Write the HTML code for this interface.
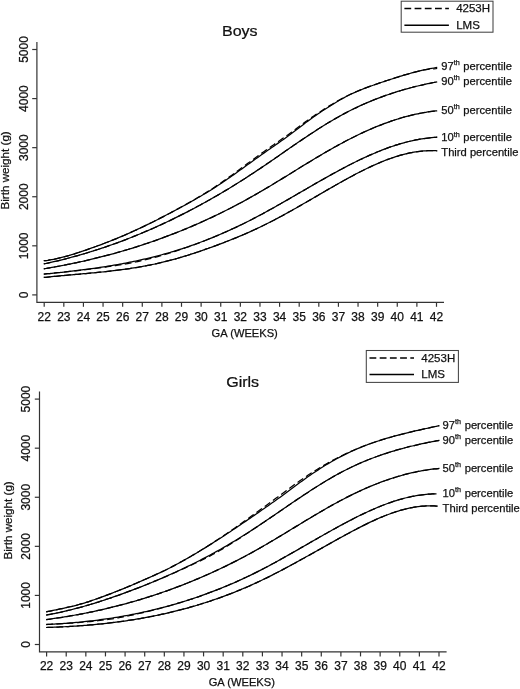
<!DOCTYPE html>
<html><head><meta charset="utf-8"><style>
html,body{margin:0;padding:0;background:#fff;}
svg{display:block;}
text{font-family:"Liberation Sans",Arial,sans-serif;fill:#111;stroke:#111;stroke-width:0.25px;}
.tk{font-size:12px;}
.at{font-size:11.15px;}
.yt{font-size:11.65px;}
.lg{font-size:11.5px;}
.ti{font-size:15.2px;}
.pl{font-size:11.2px;}
.sup{font-size:7.2px;}
.c{fill:none;stroke:#000;stroke-width:1.25;stroke-linejoin:round;}
.d{stroke-dasharray:6.8 3.4;}
</style></head><body>
<svg width="520" height="689" viewBox="0 0 520 689">
<rect width="520" height="689" fill="#fff"/>
<path d="M36.9,42.0 V302.3 H444.0" fill="none" stroke="#333" stroke-width="1.2"/>
<line x1="32.2" y1="294.90" x2="36.9" y2="294.90" stroke="#333" stroke-width="1.2"/>
<text x="27.6" y="294.90" transform="rotate(-90 27.6 294.90)" text-anchor="middle" class="tk">0</text>
<line x1="32.2" y1="245.82" x2="36.9" y2="245.82" stroke="#333" stroke-width="1.2"/>
<text x="27.6" y="245.82" transform="rotate(-90 27.6 245.82)" text-anchor="middle" class="tk">1000</text>
<line x1="32.2" y1="196.74" x2="36.9" y2="196.74" stroke="#333" stroke-width="1.2"/>
<text x="27.6" y="196.74" transform="rotate(-90 27.6 196.74)" text-anchor="middle" class="tk">2000</text>
<line x1="32.2" y1="147.66" x2="36.9" y2="147.66" stroke="#333" stroke-width="1.2"/>
<text x="27.6" y="147.66" transform="rotate(-90 27.6 147.66)" text-anchor="middle" class="tk">3000</text>
<line x1="32.2" y1="98.58" x2="36.9" y2="98.58" stroke="#333" stroke-width="1.2"/>
<text x="27.6" y="98.58" transform="rotate(-90 27.6 98.58)" text-anchor="middle" class="tk">4000</text>
<line x1="32.2" y1="49.50" x2="36.9" y2="49.50" stroke="#333" stroke-width="1.2"/>
<text x="27.6" y="49.50" transform="rotate(-90 27.6 49.50)" text-anchor="middle" class="tk">5000</text>
<line x1="44.20" y1="302.3" x2="44.20" y2="306.8" stroke="#333" stroke-width="1.2"/>
<text x="44.20" y="320.6" text-anchor="middle" class="tk">22</text>
<line x1="63.82" y1="302.3" x2="63.82" y2="306.8" stroke="#333" stroke-width="1.2"/>
<text x="63.82" y="320.6" text-anchor="middle" class="tk">23</text>
<line x1="83.43" y1="302.3" x2="83.43" y2="306.8" stroke="#333" stroke-width="1.2"/>
<text x="83.43" y="320.6" text-anchor="middle" class="tk">24</text>
<line x1="103.05" y1="302.3" x2="103.05" y2="306.8" stroke="#333" stroke-width="1.2"/>
<text x="103.05" y="320.6" text-anchor="middle" class="tk">25</text>
<line x1="122.66" y1="302.3" x2="122.66" y2="306.8" stroke="#333" stroke-width="1.2"/>
<text x="122.66" y="320.6" text-anchor="middle" class="tk">26</text>
<line x1="142.28" y1="302.3" x2="142.28" y2="306.8" stroke="#333" stroke-width="1.2"/>
<text x="142.28" y="320.6" text-anchor="middle" class="tk">27</text>
<line x1="161.89" y1="302.3" x2="161.89" y2="306.8" stroke="#333" stroke-width="1.2"/>
<text x="161.89" y="320.6" text-anchor="middle" class="tk">28</text>
<line x1="181.50" y1="302.3" x2="181.50" y2="306.8" stroke="#333" stroke-width="1.2"/>
<text x="181.50" y="320.6" text-anchor="middle" class="tk">29</text>
<line x1="201.12" y1="302.3" x2="201.12" y2="306.8" stroke="#333" stroke-width="1.2"/>
<text x="201.12" y="320.6" text-anchor="middle" class="tk">30</text>
<line x1="220.74" y1="302.3" x2="220.74" y2="306.8" stroke="#333" stroke-width="1.2"/>
<text x="220.74" y="320.6" text-anchor="middle" class="tk">31</text>
<line x1="240.35" y1="302.3" x2="240.35" y2="306.8" stroke="#333" stroke-width="1.2"/>
<text x="240.35" y="320.6" text-anchor="middle" class="tk">32</text>
<line x1="259.97" y1="302.3" x2="259.97" y2="306.8" stroke="#333" stroke-width="1.2"/>
<text x="259.97" y="320.6" text-anchor="middle" class="tk">33</text>
<line x1="279.58" y1="302.3" x2="279.58" y2="306.8" stroke="#333" stroke-width="1.2"/>
<text x="279.58" y="320.6" text-anchor="middle" class="tk">34</text>
<line x1="299.20" y1="302.3" x2="299.20" y2="306.8" stroke="#333" stroke-width="1.2"/>
<text x="299.20" y="320.6" text-anchor="middle" class="tk">35</text>
<line x1="318.81" y1="302.3" x2="318.81" y2="306.8" stroke="#333" stroke-width="1.2"/>
<text x="318.81" y="320.6" text-anchor="middle" class="tk">36</text>
<line x1="338.43" y1="302.3" x2="338.43" y2="306.8" stroke="#333" stroke-width="1.2"/>
<text x="338.43" y="320.6" text-anchor="middle" class="tk">37</text>
<line x1="358.04" y1="302.3" x2="358.04" y2="306.8" stroke="#333" stroke-width="1.2"/>
<text x="358.04" y="320.6" text-anchor="middle" class="tk">38</text>
<line x1="377.66" y1="302.3" x2="377.66" y2="306.8" stroke="#333" stroke-width="1.2"/>
<text x="377.66" y="320.6" text-anchor="middle" class="tk">39</text>
<line x1="397.27" y1="302.3" x2="397.27" y2="306.8" stroke="#333" stroke-width="1.2"/>
<text x="397.27" y="320.6" text-anchor="middle" class="tk">40</text>
<line x1="416.88" y1="302.3" x2="416.88" y2="306.8" stroke="#333" stroke-width="1.2"/>
<text x="416.88" y="320.6" text-anchor="middle" class="tk">41</text>
<line x1="436.50" y1="302.3" x2="436.50" y2="306.8" stroke="#333" stroke-width="1.2"/>
<text x="436.50" y="320.6" text-anchor="middle" class="tk">42</text>
<path d="M43.8,260.73 L45.8,260.52 L47.8,260.27 L49.8,259.97 L51.8,259.64 L53.8,259.27 L55.8,258.87 L57.8,258.44 L59.8,257.98 L61.8,257.48 L63.8,256.97 L65.8,256.42 L67.8,255.86 L69.8,255.27 L71.8,254.67 L73.8,254.04 L75.8,253.41 L77.8,252.75 L79.8,252.09 L81.8,251.42 L83.8,250.74 L85.8,250.05 L87.8,249.36 L89.8,248.66 L91.8,247.95 L93.8,247.23 L95.8,246.51 L97.8,245.78 L99.8,245.04 L101.8,244.30 L103.8,243.54 L105.8,242.78 L107.8,242.00 L109.8,241.22 L111.8,240.43 L113.8,239.63 L115.8,238.82 L117.8,237.99 L119.8,237.16 L121.8,236.32 L123.8,235.46 L125.8,234.60 L127.8,233.72 L129.8,232.84 L131.8,231.94 L133.8,231.04 L135.8,230.12 L137.8,229.19 L139.8,228.26 L141.8,227.31 L143.8,226.36 L145.8,225.40 L147.8,224.42 L149.8,223.44 L151.8,222.46 L153.8,221.46 L155.8,220.46 L157.8,219.44 L159.8,218.43 L161.8,217.40 L163.8,216.37 L165.8,215.32 L167.8,214.28 L169.8,213.22 L171.8,212.16 L173.8,211.10 L175.8,210.03 L177.8,208.95 L179.8,207.87 L181.8,206.78 L183.8,205.69 L185.8,204.59 L187.8,203.48 L189.8,202.37 L191.8,201.25 L193.8,200.12 L195.8,198.98 L197.8,197.83 L199.8,196.67 L201.8,195.49 L203.8,194.30 L205.8,193.10 L207.8,191.89 L209.8,190.66 L211.8,189.41 L213.8,188.14 L215.8,186.86 L217.8,185.56 L219.8,184.25 L221.8,182.91 L223.8,181.56 L225.8,180.20 L227.8,178.82 L229.8,177.44 L231.8,176.04 L233.8,174.63 L235.8,173.21 L237.8,171.79 L239.8,170.36 L241.8,168.92 L243.8,167.48 L245.8,166.04 L247.8,164.60 L249.8,163.16 L251.8,161.71 L253.8,160.27 L255.8,158.83 L257.8,157.40 L259.8,155.97 L261.8,154.54 L263.8,153.13 L265.8,151.72 L267.8,150.32 L269.8,148.93 L271.8,147.54 L273.8,146.15 L275.8,144.76 L277.8,143.37 L279.8,141.97 L281.8,140.56 L283.8,139.15 L285.8,137.72 L287.8,136.28 L289.8,134.82 L291.8,133.34 L293.8,131.84 L295.8,130.32 L297.8,128.78 L299.8,127.23 L301.8,125.68 L303.8,124.14 L305.8,122.62 L307.8,121.13 L309.8,119.66 L311.8,118.22 L313.8,116.79 L315.8,115.39 L317.8,114.01 L319.8,112.65 L321.8,111.31 L323.8,109.99 L325.8,108.69 L327.8,107.41 L329.8,106.14 L331.8,104.89 L333.8,103.66 L335.8,102.44 L337.8,101.25 L339.8,100.08 L341.8,98.94 L343.8,97.84 L345.8,96.78 L347.8,95.75 L349.8,94.77 L351.8,93.81 L353.8,92.89 L355.8,92.00 L357.8,91.14 L359.8,90.30 L361.8,89.49 L363.8,88.70 L365.8,87.93 L367.8,87.18 L369.8,86.44 L371.8,85.72 L373.8,85.02 L375.8,84.32 L377.8,83.63 L379.8,82.95 L381.8,82.28 L383.8,81.61 L385.8,80.94 L387.8,80.28 L389.8,79.62 L391.8,78.97 L393.8,78.32 L395.8,77.68 L397.8,77.05 L399.8,76.43 L401.8,75.82 L403.8,75.22 L405.8,74.63 L407.8,74.06 L409.8,73.49 L411.8,72.94 L413.8,72.41 L415.8,71.89 L417.8,71.38 L419.8,70.89 L421.8,70.42 L423.8,69.97 L425.8,69.53 L427.8,69.12 L429.8,68.72 L431.8,68.35 L433.8,68.00 L435.8,67.67 L437.2,67.45" class="c"/>
<path d="M43.8,260.73 L45.8,260.52 L47.8,260.27 L49.8,259.97 L51.8,259.64 L53.8,259.27 L55.8,258.87 L57.8,258.44 L59.8,257.98 L61.8,257.48 L63.8,256.97 L65.8,256.42 L67.8,255.86 L69.8,255.27 L71.8,254.67 L73.8,254.04 L75.8,253.41 L77.8,252.75 L79.8,252.09 L81.8,251.42 L83.8,250.74 L85.8,250.05 L87.8,249.36 L89.8,248.66 L91.8,247.95 L93.8,247.23 L95.8,246.51 L97.8,245.78 L99.8,245.04 L101.8,244.30 L103.8,243.54 L105.8,242.78 L107.8,242.00 L109.8,241.22 L111.8,240.43 L113.8,239.63 L115.8,238.82 L117.8,237.99 L119.8,237.16 L121.8,236.32 L123.8,235.46 L125.8,234.60 L127.8,233.72 L129.8,232.84 L131.8,231.94 L133.8,231.03 L135.8,230.12 L137.8,229.19 L139.8,228.25 L141.8,227.31 L143.8,226.35 L145.8,225.39 L147.8,224.42 L149.8,223.43 L151.8,222.44 L153.8,221.45 L155.8,220.44 L157.8,219.42 L159.8,218.40 L161.8,217.37 L163.8,216.33 L165.8,215.29 L167.8,214.24 L169.8,213.18 L171.8,212.11 L173.8,211.04 L175.8,209.96 L177.8,208.87 L179.8,207.78 L181.8,206.68 L183.8,205.57 L185.8,204.46 L187.8,203.34 L189.8,202.21 L191.8,201.07 L193.8,199.92 L195.8,198.76 L197.8,197.58 L199.8,196.40 L201.8,195.20 L203.8,193.98 L205.8,192.75 L207.8,191.50 L209.8,190.24 L211.8,188.96 L213.8,187.65 L215.8,186.33 L217.8,185.00 L219.8,183.64 L221.8,182.26 L223.8,180.87 L225.8,179.46 L227.8,178.04 L229.8,176.60 L231.8,175.16 L233.8,173.70 L235.8,172.24 L237.8,170.77 L239.8,169.29 L241.8,167.81 L243.8,166.33 L245.8,164.85 L247.8,163.36 L249.8,161.88 L251.8,160.40 L253.8,158.93 L255.8,157.46 L257.8,155.99 L259.8,154.54 L261.8,153.09 L263.8,151.66 L265.8,150.24 L267.8,148.83 L269.8,147.43 L271.8,146.04 L273.8,144.65 L275.8,143.27 L277.8,141.88 L279.8,140.50 L281.8,139.11 L283.8,137.72 L285.8,136.31 L287.8,134.90 L289.8,133.47 L291.8,132.03 L293.8,130.56 L295.8,129.08 L297.8,127.58 L299.8,126.07 L301.8,124.56 L303.8,123.07 L305.8,121.60 L307.8,120.15 L309.8,118.73 L311.8,117.33 L313.8,115.95 L315.8,114.60 L317.8,113.26 L319.8,111.95 L321.8,110.65 L323.8,109.37 L325.8,108.11 L327.8,106.87 L329.8,105.64 L331.8,104.43 L333.8,103.23 L335.8,102.05 L337.8,100.89 L339.8,99.75 L341.8,98.64 L343.8,97.56 L345.8,96.53 L347.8,95.53 L349.8,94.56 L351.8,93.63 L353.8,92.73 L355.8,91.85 L357.8,91.00 L359.8,90.18 L361.8,89.38 L363.8,88.60 L365.8,87.85 L367.8,87.10 L369.8,86.38 L371.8,85.67 L373.8,84.97 L375.8,84.28 L377.8,83.60 L379.8,82.92 L381.8,82.25 L383.8,81.58 L385.8,80.92 L387.8,80.26 L389.8,79.60 L391.8,78.95 L393.8,78.31 L395.8,77.67 L397.8,77.05 L399.8,76.43 L401.8,75.82 L403.8,75.22 L405.8,74.63 L407.8,74.05 L409.8,73.49 L411.8,72.94 L413.8,72.40 L415.8,71.88 L417.8,71.38 L419.8,70.89 L421.8,70.43 L423.8,70.01 L425.8,69.64 L427.8,69.34 L429.8,69.13 L431.8,68.98 L433.8,68.81 L435.8,68.57 L437.2,68.33" class="c d"/>
<path d="M43.8,263.91 L45.8,263.49 L47.8,263.05 L49.8,262.61 L51.8,262.16 L53.8,261.71 L55.8,261.24 L57.8,260.77 L59.8,260.28 L61.8,259.79 L63.8,259.29 L65.8,258.78 L67.8,258.26 L69.8,257.74 L71.8,257.20 L73.8,256.66 L75.8,256.11 L77.8,255.55 L79.8,254.98 L81.8,254.41 L83.8,253.82 L85.8,253.23 L87.8,252.63 L89.8,252.01 L91.8,251.40 L93.8,250.77 L95.8,250.13 L97.8,249.49 L99.8,248.83 L101.8,248.17 L103.8,247.50 L105.8,246.82 L107.8,246.13 L109.8,245.44 L111.8,244.73 L113.8,244.02 L115.8,243.30 L117.8,242.57 L119.8,241.83 L121.8,241.08 L123.8,240.32 L125.8,239.56 L127.8,238.79 L129.8,238.01 L131.8,237.22 L133.8,236.42 L135.8,235.61 L137.8,234.79 L139.8,233.97 L141.8,233.14 L143.8,232.29 L145.8,231.44 L147.8,230.58 L149.8,229.72 L151.8,228.84 L153.8,227.96 L155.8,227.06 L157.8,226.16 L159.8,225.25 L161.8,224.33 L163.8,223.40 L165.8,222.47 L167.8,221.52 L169.8,220.57 L171.8,219.61 L173.8,218.64 L175.8,217.66 L177.8,216.67 L179.8,215.67 L181.8,214.67 L183.8,213.65 L185.8,212.63 L187.8,211.60 L189.8,210.56 L191.8,209.51 L193.8,208.45 L195.8,207.39 L197.8,206.31 L199.8,205.23 L201.8,204.14 L203.8,203.04 L205.8,201.93 L207.8,200.81 L209.8,199.69 L211.8,198.55 L213.8,197.41 L215.8,196.26 L217.8,195.10 L219.8,193.93 L221.8,192.75 L223.8,191.56 L225.8,190.37 L227.8,189.16 L229.8,187.95 L231.8,186.73 L233.8,185.50 L235.8,184.26 L237.8,183.01 L239.8,181.76 L241.8,180.49 L243.8,179.22 L245.8,177.94 L247.8,176.64 L249.8,175.34 L251.8,174.04 L253.8,172.72 L255.8,171.39 L257.8,170.06 L259.8,168.72 L261.8,167.37 L263.8,166.01 L265.8,164.65 L267.8,163.28 L269.8,161.91 L271.8,160.54 L273.8,159.16 L275.8,157.78 L277.8,156.40 L279.8,155.01 L281.8,153.63 L283.8,152.24 L285.8,150.86 L287.8,149.47 L289.8,148.09 L291.8,146.71 L293.8,145.34 L295.8,143.97 L297.8,142.60 L299.8,141.24 L301.8,139.88 L303.8,138.54 L305.8,137.19 L307.8,135.86 L309.8,134.53 L311.8,133.22 L313.8,131.91 L315.8,130.61 L317.8,129.33 L319.8,128.05 L321.8,126.79 L323.8,125.54 L325.8,124.31 L327.8,123.09 L329.8,121.88 L331.8,120.69 L333.8,119.52 L335.8,118.36 L337.8,117.22 L339.8,116.10 L341.8,115.00 L343.8,113.91 L345.8,112.85 L347.8,111.80 L349.8,110.78 L351.8,109.77 L353.8,108.79 L355.8,107.82 L357.8,106.87 L359.8,105.94 L361.8,105.03 L363.8,104.13 L365.8,103.26 L367.8,102.40 L369.8,101.55 L371.8,100.73 L373.8,99.92 L375.8,99.13 L377.8,98.35 L379.8,97.59 L381.8,96.85 L383.8,96.12 L385.8,95.41 L387.8,94.72 L389.8,94.04 L391.8,93.37 L393.8,92.72 L395.8,92.08 L397.8,91.46 L399.8,90.85 L401.8,90.26 L403.8,89.68 L405.8,89.11 L407.8,88.56 L409.8,88.02 L411.8,87.49 L413.8,86.98 L415.8,86.48 L417.8,85.99 L419.8,85.51 L421.8,85.04 L423.8,84.59 L425.8,84.15 L427.8,83.71 L429.8,83.29 L431.8,82.89 L433.8,82.49 L435.8,82.10 L437.2,81.83" class="c"/>
<path d="M43.8,263.91 L45.8,263.49 L47.8,263.05 L49.8,262.61 L51.8,262.16 L53.8,261.71 L55.8,261.24 L57.8,260.77 L59.8,260.28 L61.8,259.79 L63.8,259.29 L65.8,258.78 L67.8,258.26 L69.8,257.74 L71.8,257.20 L73.8,256.66 L75.8,256.11 L77.8,255.55 L79.8,254.98 L81.8,254.41 L83.8,253.82 L85.8,253.23 L87.8,252.63 L89.8,252.01 L91.8,251.40 L93.8,250.77 L95.8,250.13 L97.8,249.49 L99.8,248.83 L101.8,248.17 L103.8,247.50 L105.8,246.82 L107.8,246.13 L109.8,245.44 L111.8,244.73 L113.8,244.02 L115.8,243.30 L117.8,242.57 L119.8,241.83 L121.8,241.08 L123.8,240.32 L125.8,239.56 L127.8,238.79 L129.8,238.01 L131.8,237.22 L133.8,236.42 L135.8,235.61 L137.8,234.79 L139.8,233.97 L141.8,233.14 L143.8,232.29 L145.8,231.44 L147.8,230.58 L149.8,229.72 L151.8,228.84 L153.8,227.96 L155.8,227.06 L157.8,226.16 L159.8,225.25 L161.8,224.33 L163.8,223.40 L165.8,222.47 L167.8,221.52 L169.8,220.57 L171.8,219.61 L173.8,218.64 L175.8,217.66 L177.8,216.67 L179.8,215.67 L181.8,214.67 L183.8,213.65 L185.8,212.63 L187.8,211.60 L189.8,210.56 L191.8,209.51 L193.8,208.45 L195.8,207.39 L197.8,206.31 L199.8,205.23 L201.8,204.14 L203.8,203.04 L205.8,201.93 L207.8,200.81 L209.8,199.69 L211.8,198.55 L213.8,197.41 L215.8,196.26 L217.8,195.10 L219.8,193.93 L221.8,192.75 L223.8,191.56 L225.8,190.37 L227.8,189.16 L229.8,187.95 L231.8,186.73 L233.8,185.50 L235.8,184.26 L237.8,183.01 L239.8,181.76 L241.8,180.49 L243.8,179.22 L245.8,177.94 L247.8,176.64 L249.8,175.34 L251.8,174.04 L253.8,172.72 L255.8,171.39 L257.8,170.06 L259.8,168.72 L261.8,167.37 L263.8,166.01 L265.8,164.65 L267.8,163.28 L269.8,161.91 L271.8,160.54 L273.8,159.16 L275.8,157.78 L277.8,156.40 L279.8,155.01 L281.8,153.63 L283.8,152.24 L285.8,150.86 L287.8,149.47 L289.8,148.09 L291.8,146.71 L293.8,145.34 L295.8,143.97 L297.8,142.60 L299.8,141.24 L301.8,139.88 L303.8,138.54 L305.8,137.19 L307.8,135.86 L309.8,134.53 L311.8,133.22 L313.8,131.91 L315.8,130.61 L317.8,129.33 L319.8,128.05 L321.8,126.79 L323.8,125.54 L325.8,124.31 L327.8,123.09 L329.8,121.88 L331.8,120.69 L333.8,119.52 L335.8,118.36 L337.8,117.22 L339.8,116.10 L341.8,115.00 L343.8,113.91 L345.8,112.85 L347.8,111.80 L349.8,110.78 L351.8,109.77 L353.8,108.79 L355.8,107.82 L357.8,106.87 L359.8,105.94 L361.8,105.03 L363.8,104.13 L365.8,103.26 L367.8,102.40 L369.8,101.55 L371.8,100.73 L373.8,99.92 L375.8,99.13 L377.8,98.35 L379.8,97.59 L381.8,96.85 L383.8,96.12 L385.8,95.41 L387.8,94.72 L389.8,94.04 L391.8,93.37 L393.8,92.72 L395.8,92.08 L397.8,91.46 L399.8,90.85 L401.8,90.26 L403.8,89.68 L405.8,89.11 L407.8,88.56 L409.8,88.02 L411.8,87.49 L413.8,86.98 L415.8,86.48 L417.8,85.99 L419.8,85.51 L421.8,85.04 L423.8,84.59 L425.8,84.15 L427.8,83.71 L429.8,83.29 L431.8,82.89 L433.8,82.49 L435.8,82.10 L437.2,81.83" class="c d"/>
<path d="M43.8,268.84 L45.8,268.50 L47.8,268.16 L49.8,267.82 L51.8,267.47 L53.8,267.11 L55.8,266.75 L57.8,266.38 L59.8,266.01 L61.8,265.63 L63.8,265.25 L65.8,264.85 L67.8,264.46 L69.8,264.05 L71.8,263.64 L73.8,263.23 L75.8,262.80 L77.8,262.37 L79.8,261.94 L81.8,261.50 L83.8,261.05 L85.8,260.60 L87.8,260.13 L89.8,259.67 L91.8,259.19 L93.8,258.71 L95.8,258.23 L97.8,257.73 L99.8,257.23 L101.8,256.72 L103.8,256.21 L105.8,255.69 L107.8,255.16 L109.8,254.63 L111.8,254.09 L113.8,253.54 L115.8,252.98 L117.8,252.42 L119.8,251.85 L121.8,251.27 L123.8,250.69 L125.8,250.10 L127.8,249.50 L129.8,248.89 L131.8,248.28 L133.8,247.66 L135.8,247.03 L137.8,246.40 L139.8,245.75 L141.8,245.10 L143.8,244.45 L145.8,243.78 L147.8,243.11 L149.8,242.43 L151.8,241.74 L153.8,241.04 L155.8,240.34 L157.8,239.63 L159.8,238.91 L161.8,238.18 L163.8,237.45 L165.8,236.70 L167.8,235.95 L169.8,235.19 L171.8,234.42 L173.8,233.65 L175.8,232.86 L177.8,232.07 L179.8,231.27 L181.8,230.46 L183.8,229.65 L185.8,228.82 L187.8,227.99 L189.8,227.15 L191.8,226.30 L193.8,225.44 L195.8,224.57 L197.8,223.70 L199.8,222.81 L201.8,221.92 L203.8,221.02 L205.8,220.11 L207.8,219.19 L209.8,218.26 L211.8,217.32 L213.8,216.37 L215.8,215.42 L217.8,214.46 L219.8,213.48 L221.8,212.50 L223.8,211.51 L225.8,210.51 L227.8,209.50 L229.8,208.48 L231.8,207.46 L233.8,206.42 L235.8,205.37 L237.8,204.32 L239.8,203.25 L241.8,202.18 L243.8,201.09 L245.8,200.00 L247.8,198.90 L249.8,197.79 L251.8,196.66 L253.8,195.53 L255.8,194.39 L257.8,193.24 L259.8,192.08 L261.8,190.91 L263.8,189.74 L265.8,188.55 L267.8,187.36 L269.8,186.17 L271.8,184.96 L273.8,183.75 L275.8,182.54 L277.8,181.32 L279.8,180.10 L281.8,178.88 L283.8,177.65 L285.8,176.42 L287.8,175.19 L289.8,173.96 L291.8,172.73 L293.8,171.49 L295.8,170.26 L297.8,169.03 L299.8,167.80 L301.8,166.57 L303.8,165.34 L305.8,164.12 L307.8,162.90 L309.8,161.68 L311.8,160.47 L313.8,159.26 L315.8,158.06 L317.8,156.87 L319.8,155.68 L321.8,154.50 L323.8,153.32 L325.8,152.16 L327.8,151.00 L329.8,149.85 L331.8,148.71 L333.8,147.58 L335.8,146.47 L337.8,145.36 L339.8,144.26 L341.8,143.18 L343.8,142.11 L345.8,141.05 L347.8,140.01 L349.8,138.98 L351.8,137.97 L353.8,136.96 L355.8,135.98 L357.8,135.00 L359.8,134.05 L361.8,133.10 L363.8,132.18 L365.8,131.26 L367.8,130.37 L369.8,129.49 L371.8,128.62 L373.8,127.77 L375.8,126.94 L377.8,126.13 L379.8,125.33 L381.8,124.55 L383.8,123.79 L385.8,123.05 L387.8,122.32 L389.8,121.62 L391.8,120.93 L393.8,120.26 L395.8,119.61 L397.8,118.98 L399.8,118.37 L401.8,117.77 L403.8,117.20 L405.8,116.65 L407.8,116.12 L409.8,115.61 L411.8,115.12 L413.8,114.65 L415.8,114.21 L417.8,113.78 L419.8,113.38 L421.8,113.00 L423.8,112.64 L425.8,112.30 L427.8,111.99 L429.8,111.70 L431.8,111.44 L433.8,111.19 L435.8,110.98 L437.2,110.84" class="c"/>
<path d="M43.8,268.84 L45.8,268.50 L47.8,268.16 L49.8,267.82 L51.8,267.47 L53.8,267.11 L55.8,266.75 L57.8,266.38 L59.8,266.01 L61.8,265.63 L63.8,265.25 L65.8,264.85 L67.8,264.46 L69.8,264.05 L71.8,263.64 L73.8,263.23 L75.8,262.80 L77.8,262.37 L79.8,261.94 L81.8,261.50 L83.8,261.05 L85.8,260.60 L87.8,260.13 L89.8,259.67 L91.8,259.19 L93.8,258.71 L95.8,258.23 L97.8,257.73 L99.8,257.23 L101.8,256.72 L103.8,256.21 L105.8,255.69 L107.8,255.16 L109.8,254.63 L111.8,254.09 L113.8,253.54 L115.8,252.98 L117.8,252.42 L119.8,251.85 L121.8,251.27 L123.8,250.69 L125.8,250.10 L127.8,249.50 L129.8,248.89 L131.8,248.28 L133.8,247.66 L135.8,247.03 L137.8,246.40 L139.8,245.75 L141.8,245.10 L143.8,244.45 L145.8,243.78 L147.8,243.11 L149.8,242.43 L151.8,241.74 L153.8,241.04 L155.8,240.34 L157.8,239.63 L159.8,238.91 L161.8,238.18 L163.8,237.45 L165.8,236.70 L167.8,235.95 L169.8,235.19 L171.8,234.42 L173.8,233.65 L175.8,232.86 L177.8,232.07 L179.8,231.27 L181.8,230.46 L183.8,229.65 L185.8,228.82 L187.8,227.99 L189.8,227.15 L191.8,226.30 L193.8,225.44 L195.8,224.57 L197.8,223.70 L199.8,222.81 L201.8,221.92 L203.8,221.02 L205.8,220.11 L207.8,219.19 L209.8,218.26 L211.8,217.32 L213.8,216.37 L215.8,215.42 L217.8,214.46 L219.8,213.48 L221.8,212.50 L223.8,211.51 L225.8,210.51 L227.8,209.50 L229.8,208.48 L231.8,207.46 L233.8,206.42 L235.8,205.37 L237.8,204.32 L239.8,203.25 L241.8,202.18 L243.8,201.09 L245.8,200.00 L247.8,198.90 L249.8,197.79 L251.8,196.66 L253.8,195.53 L255.8,194.39 L257.8,193.24 L259.8,192.08 L261.8,190.91 L263.8,189.74 L265.8,188.55 L267.8,187.36 L269.8,186.17 L271.8,184.96 L273.8,183.75 L275.8,182.54 L277.8,181.32 L279.8,180.10 L281.8,178.88 L283.8,177.65 L285.8,176.42 L287.8,175.19 L289.8,173.96 L291.8,172.73 L293.8,171.49 L295.8,170.26 L297.8,169.03 L299.8,167.80 L301.8,166.57 L303.8,165.34 L305.8,164.12 L307.8,162.90 L309.8,161.68 L311.8,160.47 L313.8,159.26 L315.8,158.06 L317.8,156.87 L319.8,155.68 L321.8,154.50 L323.8,153.32 L325.8,152.16 L327.8,151.00 L329.8,149.85 L331.8,148.71 L333.8,147.58 L335.8,146.47 L337.8,145.36 L339.8,144.26 L341.8,143.18 L343.8,142.11 L345.8,141.05 L347.8,140.01 L349.8,138.98 L351.8,137.97 L353.8,136.96 L355.8,135.98 L357.8,135.00 L359.8,134.05 L361.8,133.10 L363.8,132.18 L365.8,131.26 L367.8,130.37 L369.8,129.49 L371.8,128.62 L373.8,127.77 L375.8,126.94 L377.8,126.13 L379.8,125.33 L381.8,124.55 L383.8,123.79 L385.8,123.05 L387.8,122.32 L389.8,121.62 L391.8,120.93 L393.8,120.26 L395.8,119.61 L397.8,118.98 L399.8,118.37 L401.8,117.77 L403.8,117.20 L405.8,116.65 L407.8,116.12 L409.8,115.61 L411.8,115.12 L413.8,114.65 L415.8,114.21 L417.8,113.78 L419.8,113.38 L421.8,113.00 L423.8,112.64 L425.8,112.30 L427.8,111.99 L429.8,111.70 L431.8,111.44 L433.8,111.19 L435.8,110.98 L437.2,110.84" class="c d"/>
<path d="M43.8,274.12 L45.8,273.93 L47.8,273.73 L49.8,273.53 L51.8,273.33 L53.8,273.13 L55.8,272.92 L57.8,272.71 L59.8,272.50 L61.8,272.28 L63.8,272.07 L65.8,271.85 L67.8,271.62 L69.8,271.39 L71.8,271.16 L73.8,270.93 L75.8,270.69 L77.8,270.44 L79.8,270.19 L81.8,269.94 L83.8,269.69 L85.8,269.42 L87.8,269.16 L89.8,268.89 L91.8,268.61 L93.8,268.33 L95.8,268.04 L97.8,267.75 L99.8,267.46 L101.8,267.15 L103.8,266.84 L105.8,266.53 L107.8,266.21 L109.8,265.88 L111.8,265.55 L113.8,265.21 L115.8,264.86 L117.8,264.51 L119.8,264.15 L121.8,263.78 L123.8,263.40 L125.8,263.02 L127.8,262.63 L129.8,262.23 L131.8,261.83 L133.8,261.42 L135.8,261.00 L137.8,260.57 L139.8,260.13 L141.8,259.68 L143.8,259.23 L145.8,258.77 L147.8,258.30 L149.8,257.82 L151.8,257.33 L153.8,256.83 L155.8,256.32 L157.8,255.80 L159.8,255.28 L161.8,254.74 L163.8,254.19 L165.8,253.63 L167.8,253.07 L169.8,252.49 L171.8,251.90 L173.8,251.30 L175.8,250.70 L177.8,250.08 L179.8,249.45 L181.8,248.80 L183.8,248.15 L185.8,247.49 L187.8,246.81 L189.8,246.13 L191.8,245.43 L193.8,244.72 L195.8,244.00 L197.8,243.27 L199.8,242.53 L201.8,241.77 L203.8,241.01 L205.8,240.24 L207.8,239.45 L209.8,238.65 L211.8,237.85 L213.8,237.03 L215.8,236.20 L217.8,235.36 L219.8,234.51 L221.8,233.64 L223.8,232.77 L225.8,231.89 L227.8,230.99 L229.8,230.09 L231.8,229.17 L233.8,228.25 L235.8,227.31 L237.8,226.36 L239.8,225.41 L241.8,224.44 L243.8,223.46 L245.8,222.47 L247.8,221.47 L249.8,220.46 L251.8,219.44 L253.8,218.41 L255.8,217.36 L257.8,216.31 L259.8,215.25 L261.8,214.18 L263.8,213.10 L265.8,212.01 L267.8,210.91 L269.8,209.81 L271.8,208.70 L273.8,207.58 L275.8,206.46 L277.8,205.33 L279.8,204.19 L281.8,203.05 L283.8,201.91 L285.8,200.76 L287.8,199.61 L289.8,198.46 L291.8,197.30 L293.8,196.14 L295.8,194.98 L297.8,193.82 L299.8,192.66 L301.8,191.50 L303.8,190.34 L305.8,189.18 L307.8,188.02 L309.8,186.86 L311.8,185.71 L313.8,184.55 L315.8,183.40 L317.8,182.26 L319.8,181.12 L321.8,179.98 L323.8,178.85 L325.8,177.72 L327.8,176.60 L329.8,175.48 L331.8,174.37 L333.8,173.27 L335.8,172.18 L337.8,171.09 L339.8,170.01 L341.8,168.94 L343.8,167.88 L345.8,166.84 L347.8,165.80 L349.8,164.77 L351.8,163.75 L353.8,162.75 L355.8,161.75 L357.8,160.77 L359.8,159.81 L361.8,158.85 L363.8,157.92 L365.8,156.99 L367.8,156.08 L369.8,155.19 L371.8,154.31 L373.8,153.45 L375.8,152.60 L377.8,151.77 L379.8,150.96 L381.8,150.17 L383.8,149.40 L385.8,148.64 L387.8,147.91 L389.8,147.19 L391.8,146.50 L393.8,145.82 L395.8,145.17 L397.8,144.54 L399.8,143.93 L401.8,143.35 L403.8,142.78 L405.8,142.25 L407.8,141.73 L409.8,141.24 L411.8,140.78 L413.8,140.34 L415.8,139.92 L417.8,139.54 L419.8,139.18 L421.8,138.84 L423.8,138.54 L425.8,138.26 L427.8,138.01 L429.8,137.79 L431.8,137.60 L433.8,137.44 L435.8,137.32 L437.2,137.24" class="c"/>
<path d="M43.8,274.12 L45.8,273.93 L47.8,273.74 L49.8,273.54 L51.8,273.34 L53.8,273.14 L55.8,272.93 L57.8,272.73 L59.8,272.52 L61.8,272.31 L63.8,272.10 L65.8,271.88 L67.8,271.66 L69.8,271.44 L71.8,271.22 L73.8,271.00 L75.8,270.77 L77.8,270.54 L79.8,270.31 L81.8,270.07 L83.8,269.84 L85.8,269.60 L87.8,269.36 L89.8,269.11 L91.8,268.86 L93.8,268.61 L95.8,268.36 L97.8,268.10 L99.8,267.84 L101.8,267.57 L103.8,267.30 L105.8,267.02 L107.8,266.74 L109.8,266.46 L111.8,266.16 L113.8,265.86 L115.8,265.56 L117.8,265.24 L119.8,264.92 L121.8,264.58 L123.8,264.24 L125.8,263.89 L127.8,263.52 L129.8,263.15 L131.8,262.76 L133.8,262.36 L135.8,261.94 L137.8,261.52 L139.8,261.08 L141.8,260.63 L143.8,260.16 L145.8,259.68 L147.8,259.19 L149.8,258.69 L151.8,258.17 L153.8,257.64 L155.8,257.10 L157.8,256.55 L159.8,255.98 L161.8,255.41 L163.8,254.82 L165.8,254.22 L167.8,253.61 L169.8,253.00 L171.8,252.37 L173.8,251.73 L175.8,251.09 L177.8,250.43 L179.8,249.76 L181.8,249.09 L183.8,248.41 L185.8,247.71 L187.8,247.01 L189.8,246.30 L191.8,245.58 L193.8,244.85 L195.8,244.12 L197.8,243.37 L199.8,242.61 L201.8,241.85 L203.8,241.07 L205.8,240.29 L207.8,239.49 L209.8,238.69 L211.8,237.88 L213.8,237.05 L215.8,236.22 L217.8,235.37 L219.8,234.52 L221.8,233.66 L223.8,232.78 L225.8,231.90 L227.8,231.00 L229.8,230.09 L231.8,229.18 L233.8,228.25 L235.8,227.31 L237.8,226.37 L239.8,225.41 L241.8,224.44 L243.8,223.46 L245.8,222.47 L247.8,221.47 L249.8,220.46 L251.8,219.44 L253.8,218.41 L255.8,217.36 L257.8,216.31 L259.8,215.25 L261.8,214.18 L263.8,213.10 L265.8,212.01 L267.8,210.91 L269.8,209.81 L271.8,208.70 L273.8,207.58 L275.8,206.46 L277.8,205.33 L279.8,204.19 L281.8,203.05 L283.8,201.91 L285.8,200.76 L287.8,199.61 L289.8,198.46 L291.8,197.30 L293.8,196.14 L295.8,194.98 L297.8,193.82 L299.8,192.66 L301.8,191.50 L303.8,190.34 L305.8,189.18 L307.8,188.02 L309.8,186.86 L311.8,185.71 L313.8,184.55 L315.8,183.40 L317.8,182.26 L319.8,181.12 L321.8,179.98 L323.8,178.85 L325.8,177.72 L327.8,176.60 L329.8,175.48 L331.8,174.37 L333.8,173.27 L335.8,172.18 L337.8,171.09 L339.8,170.01 L341.8,168.94 L343.8,167.88 L345.8,166.84 L347.8,165.80 L349.8,164.77 L351.8,163.75 L353.8,162.75 L355.8,161.75 L357.8,160.77 L359.8,159.81 L361.8,158.85 L363.8,157.92 L365.8,156.99 L367.8,156.08 L369.8,155.19 L371.8,154.31 L373.8,153.45 L375.8,152.60 L377.8,151.77 L379.8,150.96 L381.8,150.17 L383.8,149.40 L385.8,148.64 L387.8,147.91 L389.8,147.19 L391.8,146.50 L393.8,145.82 L395.8,145.17 L397.8,144.54 L399.8,143.93 L401.8,143.35 L403.8,142.78 L405.8,142.25 L407.8,141.73 L409.8,141.24 L411.8,140.78 L413.8,140.34 L415.8,139.92 L417.8,139.54 L419.8,139.18 L421.8,138.84 L423.8,138.54 L425.8,138.26 L427.8,138.01 L429.8,137.79 L431.8,137.60 L433.8,137.44 L435.8,137.32 L437.2,137.24" class="c d"/>
<path d="M43.8,277.47 L45.8,277.26 L47.8,277.06 L49.8,276.85 L51.8,276.66 L53.8,276.46 L55.8,276.27 L57.8,276.08 L59.8,275.89 L61.8,275.71 L63.8,275.52 L65.8,275.34 L67.8,275.16 L69.8,274.98 L71.8,274.81 L73.8,274.63 L75.8,274.45 L77.8,274.27 L79.8,274.09 L81.8,273.91 L83.8,273.73 L85.8,273.55 L87.8,273.36 L89.8,273.18 L91.8,272.99 L93.8,272.80 L95.8,272.60 L97.8,272.40 L99.8,272.20 L101.8,272.00 L103.8,271.79 L105.8,271.57 L107.8,271.35 L109.8,271.13 L111.8,270.90 L113.8,270.66 L115.8,270.42 L117.8,270.17 L119.8,269.91 L121.8,269.65 L123.8,269.38 L125.8,269.10 L127.8,268.82 L129.8,268.53 L131.8,268.22 L133.8,267.91 L135.8,267.59 L137.8,267.26 L139.8,266.92 L141.8,266.57 L143.8,266.21 L145.8,265.84 L147.8,265.46 L149.8,265.07 L151.8,264.66 L153.8,264.24 L155.8,263.81 L157.8,263.37 L159.8,262.92 L161.8,262.45 L163.8,261.97 L165.8,261.47 L167.8,260.96 L169.8,260.44 L171.8,259.91 L173.8,259.36 L175.8,258.81 L177.8,258.24 L179.8,257.66 L181.8,257.07 L183.8,256.47 L185.8,255.85 L187.8,255.23 L189.8,254.60 L191.8,253.95 L193.8,253.30 L195.8,252.64 L197.8,251.97 L199.8,251.29 L201.8,250.60 L203.8,249.91 L205.8,249.20 L207.8,248.49 L209.8,247.78 L211.8,247.05 L213.8,246.32 L215.8,245.58 L217.8,244.84 L219.8,244.08 L221.8,243.33 L223.8,242.56 L225.8,241.79 L227.8,241.01 L229.8,240.22 L231.8,239.42 L233.8,238.62 L235.8,237.80 L237.8,236.98 L239.8,236.15 L241.8,235.31 L243.8,234.45 L245.8,233.59 L247.8,232.71 L249.8,231.83 L251.8,230.93 L253.8,230.02 L255.8,229.10 L257.8,228.17 L259.8,227.22 L261.8,226.26 L263.8,225.29 L265.8,224.30 L267.8,223.30 L269.8,222.29 L271.8,221.26 L273.8,220.22 L275.8,219.17 L277.8,218.11 L279.8,217.04 L281.8,215.96 L283.8,214.87 L285.8,213.77 L287.8,212.66 L289.8,211.55 L291.8,210.43 L293.8,209.30 L295.8,208.17 L297.8,207.03 L299.8,205.88 L301.8,204.73 L303.8,203.58 L305.8,202.42 L307.8,201.27 L309.8,200.10 L311.8,198.94 L313.8,197.78 L315.8,196.61 L317.8,195.45 L319.8,194.29 L321.8,193.12 L323.8,191.96 L325.8,190.80 L327.8,189.65 L329.8,188.50 L331.8,187.35 L333.8,186.20 L335.8,185.06 L337.8,183.93 L339.8,182.80 L341.8,181.68 L343.8,180.57 L345.8,179.46 L347.8,178.36 L349.8,177.27 L351.8,176.20 L353.8,175.13 L355.8,174.07 L357.8,173.03 L359.8,172.00 L361.8,170.99 L363.8,169.99 L365.8,169.00 L367.8,168.03 L369.8,167.08 L371.8,166.15 L373.8,165.24 L375.8,164.35 L377.8,163.47 L379.8,162.62 L381.8,161.79 L383.8,160.99 L385.8,160.20 L387.8,159.45 L389.8,158.72 L391.8,158.01 L393.8,157.33 L395.8,156.68 L397.8,156.06 L399.8,155.46 L401.8,154.90 L403.8,154.37 L405.8,153.87 L407.8,153.40 L409.8,152.97 L411.8,152.57 L413.8,152.20 L415.8,151.87 L417.8,151.58 L419.8,151.33 L421.8,151.11 L423.8,150.93 L425.8,150.79 L427.8,150.70 L429.8,150.64 L431.8,150.63 L433.8,150.66 L435.8,150.73 L437.2,150.81" class="c"/>
<path d="M43.8,277.47 L45.8,277.26 L47.8,277.06 L49.8,276.85 L51.8,276.66 L53.8,276.46 L55.8,276.27 L57.8,276.08 L59.8,275.89 L61.8,275.71 L63.8,275.52 L65.8,275.34 L67.8,275.16 L69.8,274.98 L71.8,274.81 L73.8,274.63 L75.8,274.45 L77.8,274.27 L79.8,274.09 L81.8,273.91 L83.8,273.73 L85.8,273.55 L87.8,273.36 L89.8,273.18 L91.8,272.99 L93.8,272.80 L95.8,272.60 L97.8,272.40 L99.8,272.20 L101.8,272.00 L103.8,271.79 L105.8,271.57 L107.8,271.35 L109.8,271.13 L111.8,270.90 L113.8,270.66 L115.8,270.42 L117.8,270.17 L119.8,269.91 L121.8,269.65 L123.8,269.38 L125.8,269.10 L127.8,268.82 L129.8,268.53 L131.8,268.22 L133.8,267.91 L135.8,267.59 L137.8,267.26 L139.8,266.92 L141.8,266.57 L143.8,266.21 L145.8,265.84 L147.8,265.46 L149.8,265.07 L151.8,264.66 L153.8,264.24 L155.8,263.81 L157.8,263.37 L159.8,262.92 L161.8,262.45 L163.8,261.97 L165.8,261.47 L167.8,260.96 L169.8,260.44 L171.8,259.91 L173.8,259.36 L175.8,258.81 L177.8,258.24 L179.8,257.66 L181.8,257.07 L183.8,256.47 L185.8,255.85 L187.8,255.23 L189.8,254.60 L191.8,253.95 L193.8,253.30 L195.8,252.64 L197.8,251.97 L199.8,251.29 L201.8,250.60 L203.8,249.91 L205.8,249.20 L207.8,248.49 L209.8,247.78 L211.8,247.05 L213.8,246.32 L215.8,245.58 L217.8,244.84 L219.8,244.08 L221.8,243.33 L223.8,242.56 L225.8,241.79 L227.8,241.01 L229.8,240.22 L231.8,239.42 L233.8,238.62 L235.8,237.80 L237.8,236.98 L239.8,236.15 L241.8,235.31 L243.8,234.45 L245.8,233.59 L247.8,232.71 L249.8,231.83 L251.8,230.93 L253.8,230.02 L255.8,229.10 L257.8,228.17 L259.8,227.22 L261.8,226.26 L263.8,225.29 L265.8,224.30 L267.8,223.30 L269.8,222.29 L271.8,221.26 L273.8,220.22 L275.8,219.17 L277.8,218.11 L279.8,217.04 L281.8,215.96 L283.8,214.87 L285.8,213.77 L287.8,212.66 L289.8,211.55 L291.8,210.43 L293.8,209.30 L295.8,208.17 L297.8,207.03 L299.8,205.88 L301.8,204.73 L303.8,203.58 L305.8,202.42 L307.8,201.27 L309.8,200.10 L311.8,198.94 L313.8,197.78 L315.8,196.61 L317.8,195.45 L319.8,194.29 L321.8,193.12 L323.8,191.96 L325.8,190.80 L327.8,189.65 L329.8,188.50 L331.8,187.35 L333.8,186.20 L335.8,185.06 L337.8,183.93 L339.8,182.80 L341.8,181.68 L343.8,180.57 L345.8,179.46 L347.8,178.36 L349.8,177.27 L351.8,176.20 L353.8,175.13 L355.8,174.07 L357.8,173.03 L359.8,172.00 L361.8,170.99 L363.8,169.99 L365.8,169.00 L367.8,168.03 L369.8,167.08 L371.8,166.15 L373.8,165.24 L375.8,164.35 L377.8,163.47 L379.8,162.62 L381.8,161.79 L383.8,160.99 L385.8,160.20 L387.8,159.45 L389.8,158.72 L391.8,158.01 L393.8,157.33 L395.8,156.68 L397.8,156.06 L399.8,155.46 L401.8,154.90 L403.8,154.37 L405.8,153.87 L407.8,153.40 L409.8,152.97 L411.8,152.57 L413.8,152.20 L415.8,151.87 L417.8,151.58 L419.8,151.33 L421.8,151.11 L423.8,150.93 L425.8,150.79 L427.8,150.70 L429.8,150.64 L431.8,150.63 L433.8,150.66 L435.8,150.73 L437.2,150.81" class="c d"/>
<text x="441.3" y="69.8" class="pl">97<tspan class="sup" dy="-4.6">th</tspan><tspan dy="4.6" dx="0.5"> percentile</tspan></text>
<text x="441.3" y="84.8" class="pl">90<tspan class="sup" dy="-4.6">th</tspan><tspan dy="4.6" dx="0.5"> percentile</tspan></text>
<text x="441.3" y="113.8" class="pl">50<tspan class="sup" dy="-4.6">th</tspan><tspan dy="4.6" dx="0.5"> percentile</tspan></text>
<text x="441.3" y="141.1" class="pl">10<tspan class="sup" dy="-4.6">th</tspan><tspan dy="4.6" dx="0.5"> percentile</tspan></text>
<text x="441.3" y="156.2" class="pl">Third percentile</text>
<rect x="401.2" y="1.2" width="91.8" height="31.0" fill="#fff" stroke="#444" stroke-width="1.05"/>
<line x1="404.4" y1="8.6" x2="448.9" y2="8.6" class="c d" style="stroke-width:1.5"/>
<line x1="404.4" y1="25.2" x2="448.9" y2="25.2" class="c" style="stroke-width:1.5"/>
<text x="456.2" y="12.4" class="lg">4253H</text>
<text x="456.2" y="28.6" class="lg">LMS</text>
<text transform="translate(222.0 35.8) scale(1.055 1)" class="ti">Boys</text>
<text x="211.6" y="336.7" class="at">GA (WEEKS)</text>
<text x="9.4" y="170.4" transform="rotate(-90 9.4 170.4)" text-anchor="middle" class="yt">Birth weight (g)</text>
<path d="M39.5,391.6 V651.9 H446.6" fill="none" stroke="#333" stroke-width="1.2"/>
<line x1="34.8" y1="644.50" x2="39.5" y2="644.50" stroke="#333" stroke-width="1.2"/>
<text x="30.2" y="644.50" transform="rotate(-90 30.2 644.50)" text-anchor="middle" class="tk">0</text>
<line x1="34.8" y1="595.42" x2="39.5" y2="595.42" stroke="#333" stroke-width="1.2"/>
<text x="30.2" y="595.42" transform="rotate(-90 30.2 595.42)" text-anchor="middle" class="tk">1000</text>
<line x1="34.8" y1="546.34" x2="39.5" y2="546.34" stroke="#333" stroke-width="1.2"/>
<text x="30.2" y="546.34" transform="rotate(-90 30.2 546.34)" text-anchor="middle" class="tk">2000</text>
<line x1="34.8" y1="497.26" x2="39.5" y2="497.26" stroke="#333" stroke-width="1.2"/>
<text x="30.2" y="497.26" transform="rotate(-90 30.2 497.26)" text-anchor="middle" class="tk">3000</text>
<line x1="34.8" y1="448.18" x2="39.5" y2="448.18" stroke="#333" stroke-width="1.2"/>
<text x="30.2" y="448.18" transform="rotate(-90 30.2 448.18)" text-anchor="middle" class="tk">4000</text>
<line x1="34.8" y1="399.10" x2="39.5" y2="399.10" stroke="#333" stroke-width="1.2"/>
<text x="30.2" y="399.10" transform="rotate(-90 30.2 399.10)" text-anchor="middle" class="tk">5000</text>
<line x1="46.60" y1="651.9" x2="46.60" y2="656.4" stroke="#333" stroke-width="1.2"/>
<text x="46.60" y="670.2" text-anchor="middle" class="tk">22</text>
<line x1="66.22" y1="651.9" x2="66.22" y2="656.4" stroke="#333" stroke-width="1.2"/>
<text x="66.22" y="670.2" text-anchor="middle" class="tk">23</text>
<line x1="85.84" y1="651.9" x2="85.84" y2="656.4" stroke="#333" stroke-width="1.2"/>
<text x="85.84" y="670.2" text-anchor="middle" class="tk">24</text>
<line x1="105.46" y1="651.9" x2="105.46" y2="656.4" stroke="#333" stroke-width="1.2"/>
<text x="105.46" y="670.2" text-anchor="middle" class="tk">25</text>
<line x1="125.08" y1="651.9" x2="125.08" y2="656.4" stroke="#333" stroke-width="1.2"/>
<text x="125.08" y="670.2" text-anchor="middle" class="tk">26</text>
<line x1="144.70" y1="651.9" x2="144.70" y2="656.4" stroke="#333" stroke-width="1.2"/>
<text x="144.70" y="670.2" text-anchor="middle" class="tk">27</text>
<line x1="164.32" y1="651.9" x2="164.32" y2="656.4" stroke="#333" stroke-width="1.2"/>
<text x="164.32" y="670.2" text-anchor="middle" class="tk">28</text>
<line x1="183.94" y1="651.9" x2="183.94" y2="656.4" stroke="#333" stroke-width="1.2"/>
<text x="183.94" y="670.2" text-anchor="middle" class="tk">29</text>
<line x1="203.56" y1="651.9" x2="203.56" y2="656.4" stroke="#333" stroke-width="1.2"/>
<text x="203.56" y="670.2" text-anchor="middle" class="tk">30</text>
<line x1="223.18" y1="651.9" x2="223.18" y2="656.4" stroke="#333" stroke-width="1.2"/>
<text x="223.18" y="670.2" text-anchor="middle" class="tk">31</text>
<line x1="242.80" y1="651.9" x2="242.80" y2="656.4" stroke="#333" stroke-width="1.2"/>
<text x="242.80" y="670.2" text-anchor="middle" class="tk">32</text>
<line x1="262.42" y1="651.9" x2="262.42" y2="656.4" stroke="#333" stroke-width="1.2"/>
<text x="262.42" y="670.2" text-anchor="middle" class="tk">33</text>
<line x1="282.04" y1="651.9" x2="282.04" y2="656.4" stroke="#333" stroke-width="1.2"/>
<text x="282.04" y="670.2" text-anchor="middle" class="tk">34</text>
<line x1="301.66" y1="651.9" x2="301.66" y2="656.4" stroke="#333" stroke-width="1.2"/>
<text x="301.66" y="670.2" text-anchor="middle" class="tk">35</text>
<line x1="321.28" y1="651.9" x2="321.28" y2="656.4" stroke="#333" stroke-width="1.2"/>
<text x="321.28" y="670.2" text-anchor="middle" class="tk">36</text>
<line x1="340.90" y1="651.9" x2="340.90" y2="656.4" stroke="#333" stroke-width="1.2"/>
<text x="340.90" y="670.2" text-anchor="middle" class="tk">37</text>
<line x1="360.52" y1="651.9" x2="360.52" y2="656.4" stroke="#333" stroke-width="1.2"/>
<text x="360.52" y="670.2" text-anchor="middle" class="tk">38</text>
<line x1="380.14" y1="651.9" x2="380.14" y2="656.4" stroke="#333" stroke-width="1.2"/>
<text x="380.14" y="670.2" text-anchor="middle" class="tk">39</text>
<line x1="399.76" y1="651.9" x2="399.76" y2="656.4" stroke="#333" stroke-width="1.2"/>
<text x="399.76" y="670.2" text-anchor="middle" class="tk">40</text>
<line x1="419.38" y1="651.9" x2="419.38" y2="656.4" stroke="#333" stroke-width="1.2"/>
<text x="419.38" y="670.2" text-anchor="middle" class="tk">41</text>
<line x1="439.00" y1="651.9" x2="439.00" y2="656.4" stroke="#333" stroke-width="1.2"/>
<text x="439.00" y="670.2" text-anchor="middle" class="tk">42</text>
<path d="M46.2,611.86 L48.2,611.43 L50.2,611.02 L52.2,610.61 L54.2,610.19 L56.2,609.78 L58.2,609.37 L60.2,608.95 L62.2,608.52 L64.2,608.09 L66.2,607.65 L68.2,607.20 L70.2,606.74 L72.2,606.27 L74.2,605.78 L76.2,605.27 L78.2,604.74 L80.2,604.20 L82.2,603.63 L84.2,603.04 L86.2,602.43 L88.2,601.79 L90.2,601.13 L92.2,600.45 L94.2,599.75 L96.2,599.03 L98.2,598.31 L100.2,597.57 L102.2,596.82 L104.2,596.08 L106.2,595.32 L108.2,594.57 L110.2,593.81 L112.2,593.05 L114.2,592.29 L116.2,591.52 L118.2,590.74 L120.2,589.95 L122.2,589.15 L124.2,588.34 L126.2,587.52 L128.2,586.68 L130.2,585.83 L132.2,584.98 L134.2,584.11 L136.2,583.24 L138.2,582.36 L140.2,581.49 L142.2,580.60 L144.2,579.72 L146.2,578.85 L148.2,577.97 L150.2,577.09 L152.2,576.20 L154.2,575.31 L156.2,574.41 L158.2,573.50 L160.2,572.58 L162.2,571.64 L164.2,570.69 L166.2,569.71 L168.2,568.72 L170.2,567.71 L172.2,566.68 L174.2,565.63 L176.2,564.57 L178.2,563.49 L180.2,562.40 L182.2,561.29 L184.2,560.17 L186.2,559.04 L188.2,557.90 L190.2,556.74 L192.2,555.58 L194.2,554.40 L196.2,553.21 L198.2,552.01 L200.2,550.81 L202.2,549.59 L204.2,548.36 L206.2,547.12 L208.2,545.88 L210.2,544.62 L212.2,543.36 L214.2,542.09 L216.2,540.81 L218.2,539.52 L220.2,538.23 L222.2,536.92 L224.2,535.62 L226.2,534.30 L228.2,532.98 L230.2,531.65 L232.2,530.32 L234.2,528.98 L236.2,527.64 L238.2,526.29 L240.2,524.94 L242.2,523.58 L244.2,522.22 L246.2,520.86 L248.2,519.49 L250.2,518.12 L252.2,516.75 L254.2,515.37 L256.2,514.00 L258.2,512.62 L260.2,511.24 L262.2,509.85 L264.2,508.46 L266.2,507.07 L268.2,505.67 L270.2,504.27 L272.2,502.86 L274.2,501.44 L276.2,500.02 L278.2,498.58 L280.2,497.14 L282.2,495.68 L284.2,494.21 L286.2,492.73 L288.2,491.25 L290.2,489.76 L292.2,488.27 L294.2,486.78 L296.2,485.30 L298.2,483.82 L300.2,482.35 L302.2,480.89 L304.2,479.45 L306.2,478.02 L308.2,476.61 L310.2,475.22 L312.2,473.85 L314.2,472.51 L316.2,471.18 L318.2,469.87 L320.2,468.58 L322.2,467.31 L324.2,466.06 L326.2,464.84 L328.2,463.64 L330.2,462.46 L332.2,461.30 L334.2,460.17 L336.2,459.05 L338.2,457.97 L340.2,456.90 L342.2,455.86 L344.2,454.85 L346.2,453.86 L348.2,452.89 L350.2,451.95 L352.2,451.03 L354.2,450.14 L356.2,449.26 L358.2,448.41 L360.2,447.58 L362.2,446.77 L364.2,445.98 L366.2,445.21 L368.2,444.46 L370.2,443.73 L372.2,443.02 L374.2,442.32 L376.2,441.64 L378.2,440.98 L380.2,440.33 L382.2,439.70 L384.2,439.08 L386.2,438.47 L388.2,437.88 L390.2,437.30 L392.2,436.74 L394.2,436.19 L396.2,435.64 L398.2,435.11 L400.2,434.59 L402.2,434.08 L404.2,433.58 L406.2,433.08 L408.2,432.60 L410.2,432.12 L412.2,431.65 L414.2,431.18 L416.2,430.72 L418.2,430.27 L420.2,429.82 L422.2,429.37 L424.2,428.93 L426.2,428.49 L428.2,428.05 L430.2,427.62 L432.2,427.18 L434.2,426.75 L436.2,426.32 L438.2,425.88 L439.3,425.64" class="c"/>
<path d="M46.2,611.86 L48.2,611.43 L50.2,611.02 L52.2,610.61 L54.2,610.19 L56.2,609.78 L58.2,609.37 L60.2,608.95 L62.2,608.52 L64.2,608.09 L66.2,607.65 L68.2,607.20 L70.2,606.74 L72.2,606.27 L74.2,605.78 L76.2,605.27 L78.2,604.74 L80.2,604.20 L82.2,603.63 L84.2,603.04 L86.2,602.43 L88.2,601.79 L90.2,601.13 L92.2,600.45 L94.2,599.75 L96.2,599.03 L98.2,598.31 L100.2,597.57 L102.2,596.82 L104.2,596.08 L106.2,595.32 L108.2,594.57 L110.2,593.81 L112.2,593.05 L114.2,592.29 L116.2,591.52 L118.2,590.74 L120.2,589.95 L122.2,589.15 L124.2,588.34 L126.2,587.52 L128.2,586.68 L130.2,585.83 L132.2,584.98 L134.2,584.11 L136.2,583.24 L138.2,582.36 L140.2,581.49 L142.2,580.60 L144.2,579.72 L146.2,578.85 L148.2,577.97 L150.2,577.09 L152.2,576.20 L154.2,575.31 L156.2,574.41 L158.2,573.50 L160.2,572.58 L162.2,571.64 L164.2,570.69 L166.2,569.71 L168.2,568.72 L170.2,567.70 L172.2,566.67 L174.2,565.62 L176.2,564.56 L178.2,563.48 L180.2,562.39 L182.2,561.28 L184.2,560.16 L186.2,559.02 L188.2,557.88 L190.2,556.72 L192.2,555.55 L194.2,554.37 L196.2,553.17 L198.2,551.97 L200.2,550.75 L202.2,549.52 L204.2,548.28 L206.2,547.03 L208.2,545.77 L210.2,544.50 L212.2,543.21 L214.2,541.92 L216.2,540.61 L218.2,539.30 L220.2,537.97 L222.2,536.64 L224.2,535.29 L226.2,533.94 L228.2,532.57 L230.2,531.20 L232.2,529.82 L234.2,528.42 L236.2,527.02 L238.2,525.61 L240.2,524.20 L242.2,522.77 L244.2,521.34 L246.2,519.91 L248.2,518.47 L250.2,517.02 L252.2,515.57 L254.2,514.12 L256.2,512.67 L258.2,511.21 L260.2,509.76 L262.2,508.30 L264.2,506.85 L266.2,505.39 L268.2,503.93 L270.2,502.48 L272.2,501.02 L274.2,499.56 L276.2,498.09 L278.2,496.63 L280.2,495.16 L282.2,493.69 L284.2,492.21 L286.2,490.73 L288.2,489.26 L290.2,487.79 L292.2,486.32 L294.2,484.86 L296.2,483.42 L298.2,481.99 L300.2,480.57 L302.2,479.17 L304.2,477.78 L306.2,476.42 L308.2,475.08 L310.2,473.76 L312.2,472.47 L314.2,471.19 L316.2,469.94 L318.2,468.71 L320.2,467.49 L322.2,466.30 L324.2,465.13 L326.2,463.97 L328.2,462.84 L330.2,461.73 L332.2,460.63 L334.2,459.56 L336.2,458.51 L338.2,457.47 L340.2,456.46 L342.2,455.47 L344.2,454.49 L346.2,453.54 L348.2,452.61 L350.2,451.71 L352.2,450.82 L354.2,449.95 L356.2,449.10 L358.2,448.27 L360.2,447.46 L362.2,446.67 L364.2,445.89 L366.2,445.14 L368.2,444.40 L370.2,443.68 L372.2,442.97 L374.2,442.28 L376.2,441.61 L378.2,440.95 L380.2,440.31 L382.2,439.68 L384.2,439.06 L386.2,438.46 L388.2,437.87 L390.2,437.30 L392.2,436.73 L394.2,436.18 L396.2,435.64 L398.2,435.11 L400.2,434.59 L402.2,434.08 L404.2,433.57 L406.2,433.08 L408.2,432.59 L410.2,432.12 L412.2,431.64 L414.2,431.18 L416.2,430.72 L418.2,430.26 L420.2,429.81 L422.2,429.37 L424.2,428.93 L426.2,428.49 L428.2,428.05 L430.2,427.62 L432.2,427.18 L434.2,426.75 L436.2,426.32 L438.2,425.88 L439.3,425.64" class="c d"/>
<path d="M46.2,615.06 L48.2,614.70 L50.2,614.34 L52.2,613.96 L54.2,613.57 L56.2,613.16 L58.2,612.75 L60.2,612.32 L62.2,611.88 L64.2,611.42 L66.2,610.96 L68.2,610.48 L70.2,609.99 L72.2,609.49 L74.2,608.98 L76.2,608.46 L78.2,607.92 L80.2,607.38 L82.2,606.83 L84.2,606.26 L86.2,605.69 L88.2,605.11 L90.2,604.51 L92.2,603.91 L94.2,603.30 L96.2,602.68 L98.2,602.05 L100.2,601.41 L102.2,600.76 L104.2,600.11 L106.2,599.44 L108.2,598.77 L110.2,598.09 L112.2,597.41 L114.2,596.71 L116.2,596.01 L118.2,595.30 L120.2,594.59 L122.2,593.87 L124.2,593.14 L126.2,592.41 L128.2,591.67 L130.2,590.92 L132.2,590.17 L134.2,589.41 L136.2,588.64 L138.2,587.87 L140.2,587.09 L142.2,586.30 L144.2,585.51 L146.2,584.71 L148.2,583.90 L150.2,583.09 L152.2,582.27 L154.2,581.44 L156.2,580.61 L158.2,579.76 L160.2,578.91 L162.2,578.06 L164.2,577.19 L166.2,576.32 L168.2,575.44 L170.2,574.55 L172.2,573.65 L174.2,572.75 L176.2,571.83 L178.2,570.91 L180.2,569.98 L182.2,569.05 L184.2,568.10 L186.2,567.15 L188.2,566.18 L190.2,565.21 L192.2,564.23 L194.2,563.24 L196.2,562.24 L198.2,561.23 L200.2,560.21 L202.2,559.18 L204.2,558.14 L206.2,557.09 L208.2,556.03 L210.2,554.96 L212.2,553.87 L214.2,552.78 L216.2,551.67 L218.2,550.55 L220.2,549.42 L222.2,548.28 L224.2,547.13 L226.2,545.96 L228.2,544.79 L230.2,543.60 L232.2,542.40 L234.2,541.20 L236.2,539.98 L238.2,538.75 L240.2,537.51 L242.2,536.26 L244.2,535.00 L246.2,533.73 L248.2,532.46 L250.2,531.17 L252.2,529.88 L254.2,528.57 L256.2,527.26 L258.2,525.94 L260.2,524.61 L262.2,523.28 L264.2,521.94 L266.2,520.59 L268.2,519.24 L270.2,517.88 L272.2,516.52 L274.2,515.16 L276.2,513.79 L278.2,512.42 L280.2,511.05 L282.2,509.68 L284.2,508.31 L286.2,506.94 L288.2,505.58 L290.2,504.21 L292.2,502.85 L294.2,501.49 L296.2,500.14 L298.2,498.79 L300.2,497.45 L302.2,496.11 L304.2,494.78 L306.2,493.46 L308.2,492.15 L310.2,490.84 L312.2,489.55 L314.2,488.26 L316.2,486.99 L318.2,485.73 L320.2,484.48 L322.2,483.25 L324.2,482.02 L326.2,480.82 L328.2,479.63 L330.2,478.45 L332.2,477.29 L334.2,476.15 L336.2,475.02 L338.2,473.92 L340.2,472.83 L342.2,471.77 L344.2,470.72 L346.2,469.70 L348.2,468.69 L350.2,467.71 L352.2,466.75 L354.2,465.81 L356.2,464.89 L358.2,463.99 L360.2,463.11 L362.2,462.25 L364.2,461.41 L366.2,460.58 L368.2,459.78 L370.2,458.99 L372.2,458.22 L374.2,457.46 L376.2,456.73 L378.2,456.01 L380.2,455.30 L382.2,454.62 L384.2,453.94 L386.2,453.29 L388.2,452.65 L390.2,452.02 L392.2,451.41 L394.2,450.81 L396.2,450.22 L398.2,449.65 L400.2,449.09 L402.2,448.54 L404.2,448.01 L406.2,447.49 L408.2,446.98 L410.2,446.48 L412.2,445.99 L414.2,445.52 L416.2,445.05 L418.2,444.60 L420.2,444.15 L422.2,443.71 L424.2,443.29 L426.2,442.87 L428.2,442.46 L430.2,442.06 L432.2,441.66 L434.2,441.28 L436.2,440.90 L438.2,440.52 L439.3,440.32" class="c"/>
<path d="M46.2,615.06 L48.2,614.70 L50.2,614.34 L52.2,613.96 L54.2,613.57 L56.2,613.16 L58.2,612.75 L60.2,612.32 L62.2,611.88 L64.2,611.42 L66.2,610.96 L68.2,610.48 L70.2,609.99 L72.2,609.49 L74.2,608.98 L76.2,608.46 L78.2,607.92 L80.2,607.38 L82.2,606.83 L84.2,606.26 L86.2,605.69 L88.2,605.11 L90.2,604.51 L92.2,603.91 L94.2,603.30 L96.2,602.68 L98.2,602.05 L100.2,601.41 L102.2,600.76 L104.2,600.11 L106.2,599.44 L108.2,598.77 L110.2,598.09 L112.2,597.41 L114.2,596.71 L116.2,596.01 L118.2,595.30 L120.2,594.59 L122.2,593.87 L124.2,593.14 L126.2,592.41 L128.2,591.67 L130.2,590.92 L132.2,590.17 L134.2,589.41 L136.2,588.64 L138.2,587.87 L140.2,587.09 L142.2,586.30 L144.2,585.51 L146.2,584.71 L148.2,583.91 L150.2,583.10 L152.2,582.28 L154.2,581.45 L156.2,580.62 L158.2,579.78 L160.2,578.93 L162.2,578.08 L164.2,577.22 L166.2,576.36 L168.2,575.49 L170.2,574.62 L172.2,573.74 L174.2,572.85 L176.2,571.97 L178.2,571.07 L180.2,570.18 L182.2,569.27 L184.2,568.37 L186.2,567.46 L188.2,566.54 L190.2,565.62 L192.2,564.69 L194.2,563.76 L196.2,562.81 L198.2,561.86 L200.2,560.89 L202.2,559.91 L204.2,558.92 L206.2,557.90 L208.2,556.88 L210.2,555.83 L212.2,554.76 L214.2,553.68 L216.2,552.57 L218.2,551.44 L220.2,550.29 L222.2,549.13 L224.2,547.94 L226.2,546.73 L228.2,545.51 L230.2,544.27 L232.2,543.02 L234.2,541.76 L236.2,540.48 L238.2,539.20 L240.2,537.91 L242.2,536.61 L244.2,535.31 L246.2,533.99 L248.2,532.68 L250.2,531.36 L252.2,530.03 L254.2,528.70 L256.2,527.36 L258.2,526.02 L260.2,524.68 L262.2,523.33 L264.2,521.98 L266.2,520.62 L268.2,519.26 L270.2,517.90 L272.2,516.53 L274.2,515.17 L276.2,513.80 L278.2,512.43 L280.2,511.06 L282.2,509.68 L284.2,508.31 L286.2,506.95 L288.2,505.58 L290.2,504.21 L292.2,502.85 L294.2,501.49 L296.2,500.14 L298.2,498.79 L300.2,497.45 L302.2,496.11 L304.2,494.78 L306.2,493.46 L308.2,492.15 L310.2,490.84 L312.2,489.55 L314.2,488.26 L316.2,486.99 L318.2,485.73 L320.2,484.48 L322.2,483.25 L324.2,482.02 L326.2,480.82 L328.2,479.63 L330.2,478.45 L332.2,477.29 L334.2,476.15 L336.2,475.02 L338.2,473.92 L340.2,472.83 L342.2,471.77 L344.2,470.72 L346.2,469.70 L348.2,468.69 L350.2,467.71 L352.2,466.75 L354.2,465.81 L356.2,464.89 L358.2,463.99 L360.2,463.11 L362.2,462.25 L364.2,461.41 L366.2,460.58 L368.2,459.78 L370.2,458.99 L372.2,458.22 L374.2,457.46 L376.2,456.73 L378.2,456.01 L380.2,455.30 L382.2,454.62 L384.2,453.94 L386.2,453.29 L388.2,452.65 L390.2,452.02 L392.2,451.41 L394.2,450.81 L396.2,450.22 L398.2,449.65 L400.2,449.09 L402.2,448.54 L404.2,448.01 L406.2,447.49 L408.2,446.98 L410.2,446.48 L412.2,445.99 L414.2,445.52 L416.2,445.05 L418.2,444.60 L420.2,444.15 L422.2,443.71 L424.2,443.29 L426.2,442.87 L428.2,442.46 L430.2,442.06 L432.2,441.66 L434.2,441.28 L436.2,440.90 L438.2,440.52 L439.3,440.32" class="c d"/>
<path d="M46.2,619.57 L48.2,619.30 L50.2,619.03 L52.2,618.75 L54.2,618.47 L56.2,618.18 L58.2,617.88 L60.2,617.58 L62.2,617.26 L64.2,616.95 L66.2,616.62 L68.2,616.29 L70.2,615.95 L72.2,615.61 L74.2,615.25 L76.2,614.89 L78.2,614.53 L80.2,614.15 L82.2,613.77 L84.2,613.39 L86.2,612.99 L88.2,612.59 L90.2,612.18 L92.2,611.77 L94.2,611.34 L96.2,610.91 L98.2,610.48 L100.2,610.03 L102.2,609.58 L104.2,609.12 L106.2,608.65 L108.2,608.18 L110.2,607.70 L112.2,607.21 L114.2,606.71 L116.2,606.21 L118.2,605.70 L120.2,605.18 L122.2,604.65 L124.2,604.11 L126.2,603.57 L128.2,603.02 L130.2,602.46 L132.2,601.90 L134.2,601.32 L136.2,600.74 L138.2,600.15 L140.2,599.55 L142.2,598.95 L144.2,598.33 L146.2,597.71 L148.2,597.08 L150.2,596.44 L152.2,595.80 L154.2,595.14 L156.2,594.48 L158.2,593.81 L160.2,593.13 L162.2,592.44 L164.2,591.74 L166.2,591.04 L168.2,590.33 L170.2,589.61 L172.2,588.88 L174.2,588.14 L176.2,587.39 L178.2,586.64 L180.2,585.87 L182.2,585.10 L184.2,584.32 L186.2,583.53 L188.2,582.73 L190.2,581.92 L192.2,581.11 L194.2,580.28 L196.2,579.45 L198.2,578.60 L200.2,577.75 L202.2,576.89 L204.2,576.02 L206.2,575.14 L208.2,574.26 L210.2,573.36 L212.2,572.45 L214.2,571.54 L216.2,570.61 L218.2,569.68 L220.2,568.73 L222.2,567.78 L224.2,566.82 L226.2,565.85 L228.2,564.87 L230.2,563.88 L232.2,562.88 L234.2,561.87 L236.2,560.85 L238.2,559.83 L240.2,558.79 L242.2,557.74 L244.2,556.68 L246.2,555.62 L248.2,554.54 L250.2,553.46 L252.2,552.36 L254.2,551.25 L256.2,550.14 L258.2,549.01 L260.2,547.88 L262.2,546.73 L264.2,545.58 L266.2,544.42 L268.2,543.25 L270.2,542.07 L272.2,540.89 L274.2,539.70 L276.2,538.51 L278.2,537.31 L280.2,536.11 L282.2,534.90 L284.2,533.69 L286.2,532.48 L288.2,531.26 L290.2,530.05 L292.2,528.83 L294.2,527.61 L296.2,526.40 L298.2,525.18 L300.2,523.96 L302.2,522.75 L304.2,521.54 L306.2,520.33 L308.2,519.13 L310.2,517.93 L312.2,516.73 L314.2,515.54 L316.2,514.35 L318.2,513.18 L320.2,512.00 L322.2,510.84 L324.2,509.68 L326.2,508.53 L328.2,507.40 L330.2,506.27 L332.2,505.15 L334.2,504.04 L336.2,502.94 L338.2,501.86 L340.2,500.78 L342.2,499.72 L344.2,498.68 L346.2,497.65 L348.2,496.63 L350.2,495.63 L352.2,494.64 L354.2,493.66 L356.2,492.71 L358.2,491.76 L360.2,490.83 L362.2,489.92 L364.2,489.03 L366.2,488.15 L368.2,487.28 L370.2,486.43 L372.2,485.60 L374.2,484.79 L376.2,483.99 L378.2,483.21 L380.2,482.45 L382.2,481.70 L384.2,480.97 L386.2,480.26 L388.2,479.57 L390.2,478.90 L392.2,478.24 L394.2,477.60 L396.2,476.98 L398.2,476.38 L400.2,475.80 L402.2,475.24 L404.2,474.69 L406.2,474.17 L408.2,473.67 L410.2,473.18 L412.2,472.72 L414.2,472.27 L416.2,471.85 L418.2,471.45 L420.2,471.06 L422.2,470.70 L424.2,470.36 L426.2,470.04 L428.2,469.75 L430.2,469.47 L432.2,469.22 L434.2,468.98 L436.2,468.77 L438.2,468.58 L439.3,468.49" class="c"/>
<path d="M46.2,619.57 L48.2,619.30 L50.2,619.03 L52.2,618.75 L54.2,618.47 L56.2,618.18 L58.2,617.88 L60.2,617.58 L62.2,617.26 L64.2,616.95 L66.2,616.62 L68.2,616.29 L70.2,615.95 L72.2,615.61 L74.2,615.25 L76.2,614.89 L78.2,614.53 L80.2,614.15 L82.2,613.77 L84.2,613.39 L86.2,612.99 L88.2,612.59 L90.2,612.18 L92.2,611.77 L94.2,611.34 L96.2,610.91 L98.2,610.48 L100.2,610.03 L102.2,609.58 L104.2,609.12 L106.2,608.65 L108.2,608.18 L110.2,607.70 L112.2,607.21 L114.2,606.71 L116.2,606.21 L118.2,605.70 L120.2,605.18 L122.2,604.65 L124.2,604.11 L126.2,603.57 L128.2,603.02 L130.2,602.46 L132.2,601.90 L134.2,601.32 L136.2,600.74 L138.2,600.15 L140.2,599.55 L142.2,598.95 L144.2,598.33 L146.2,597.71 L148.2,597.08 L150.2,596.44 L152.2,595.80 L154.2,595.14 L156.2,594.48 L158.2,593.81 L160.2,593.13 L162.2,592.44 L164.2,591.74 L166.2,591.04 L168.2,590.33 L170.2,589.61 L172.2,588.88 L174.2,588.14 L176.2,587.39 L178.2,586.64 L180.2,585.87 L182.2,585.10 L184.2,584.32 L186.2,583.53 L188.2,582.73 L190.2,581.92 L192.2,581.11 L194.2,580.28 L196.2,579.45 L198.2,578.60 L200.2,577.75 L202.2,576.89 L204.2,576.02 L206.2,575.14 L208.2,574.26 L210.2,573.36 L212.2,572.45 L214.2,571.54 L216.2,570.61 L218.2,569.68 L220.2,568.73 L222.2,567.78 L224.2,566.82 L226.2,565.85 L228.2,564.87 L230.2,563.88 L232.2,562.88 L234.2,561.87 L236.2,560.85 L238.2,559.83 L240.2,558.79 L242.2,557.74 L244.2,556.68 L246.2,555.62 L248.2,554.54 L250.2,553.46 L252.2,552.36 L254.2,551.25 L256.2,550.14 L258.2,549.01 L260.2,547.88 L262.2,546.73 L264.2,545.58 L266.2,544.42 L268.2,543.25 L270.2,542.07 L272.2,540.89 L274.2,539.70 L276.2,538.51 L278.2,537.31 L280.2,536.11 L282.2,534.90 L284.2,533.69 L286.2,532.48 L288.2,531.26 L290.2,530.05 L292.2,528.83 L294.2,527.61 L296.2,526.40 L298.2,525.18 L300.2,523.96 L302.2,522.75 L304.2,521.54 L306.2,520.33 L308.2,519.13 L310.2,517.93 L312.2,516.73 L314.2,515.54 L316.2,514.35 L318.2,513.18 L320.2,512.00 L322.2,510.84 L324.2,509.68 L326.2,508.53 L328.2,507.40 L330.2,506.27 L332.2,505.15 L334.2,504.04 L336.2,502.94 L338.2,501.86 L340.2,500.78 L342.2,499.72 L344.2,498.68 L346.2,497.65 L348.2,496.63 L350.2,495.63 L352.2,494.64 L354.2,493.66 L356.2,492.71 L358.2,491.76 L360.2,490.83 L362.2,489.92 L364.2,489.03 L366.2,488.15 L368.2,487.28 L370.2,486.43 L372.2,485.60 L374.2,484.79 L376.2,483.99 L378.2,483.21 L380.2,482.45 L382.2,481.70 L384.2,480.97 L386.2,480.26 L388.2,479.57 L390.2,478.90 L392.2,478.24 L394.2,477.60 L396.2,476.98 L398.2,476.38 L400.2,475.80 L402.2,475.24 L404.2,474.69 L406.2,474.17 L408.2,473.67 L410.2,473.18 L412.2,472.72 L414.2,472.27 L416.2,471.85 L418.2,471.45 L420.2,471.06 L422.2,470.70 L424.2,470.36 L426.2,470.04 L428.2,469.75 L430.2,469.47 L432.2,469.22 L434.2,468.98 L436.2,468.77 L438.2,468.58 L439.3,468.49" class="c d"/>
<path d="M46.2,624.49 L48.2,624.39 L50.2,624.29 L52.2,624.19 L54.2,624.08 L56.2,623.96 L58.2,623.84 L60.2,623.71 L62.2,623.57 L64.2,623.43 L66.2,623.28 L68.2,623.13 L70.2,622.96 L72.2,622.80 L74.2,622.62 L76.2,622.44 L78.2,622.25 L80.2,622.06 L82.2,621.86 L84.2,621.65 L86.2,621.44 L88.2,621.21 L90.2,620.99 L92.2,620.75 L94.2,620.51 L96.2,620.26 L98.2,620.00 L100.2,619.74 L102.2,619.46 L104.2,619.19 L106.2,618.90 L108.2,618.61 L110.2,618.30 L112.2,618.00 L114.2,617.68 L116.2,617.35 L118.2,617.02 L120.2,616.68 L122.2,616.33 L124.2,615.98 L126.2,615.62 L128.2,615.24 L130.2,614.86 L132.2,614.48 L134.2,614.08 L136.2,613.68 L138.2,613.27 L140.2,612.84 L142.2,612.42 L144.2,611.98 L146.2,611.53 L148.2,611.08 L150.2,610.61 L152.2,610.14 L154.2,609.66 L156.2,609.17 L158.2,608.68 L160.2,608.17 L162.2,607.65 L164.2,607.13 L166.2,606.60 L168.2,606.05 L170.2,605.50 L172.2,604.94 L174.2,604.37 L176.2,603.79 L178.2,603.20 L180.2,602.60 L182.2,601.99 L184.2,601.38 L186.2,600.75 L188.2,600.11 L190.2,599.47 L192.2,598.81 L194.2,598.15 L196.2,597.47 L198.2,596.79 L200.2,596.09 L202.2,595.39 L204.2,594.67 L206.2,593.95 L208.2,593.21 L210.2,592.46 L212.2,591.71 L214.2,590.94 L216.2,590.17 L218.2,589.38 L220.2,588.58 L222.2,587.77 L224.2,586.95 L226.2,586.13 L228.2,585.29 L230.2,584.43 L232.2,583.57 L234.2,582.70 L236.2,581.82 L238.2,580.92 L240.2,580.02 L242.2,579.10 L244.2,578.18 L246.2,577.24 L248.2,576.29 L250.2,575.33 L252.2,574.35 L254.2,573.37 L256.2,572.38 L258.2,571.37 L260.2,570.35 L262.2,569.32 L264.2,568.28 L266.2,567.23 L268.2,566.18 L270.2,565.11 L272.2,564.03 L274.2,562.95 L276.2,561.85 L278.2,560.75 L280.2,559.65 L282.2,558.53 L284.2,557.41 L286.2,556.29 L288.2,555.16 L290.2,554.03 L292.2,552.89 L294.2,551.75 L296.2,550.61 L298.2,549.46 L300.2,548.31 L302.2,547.16 L304.2,546.01 L306.2,544.86 L308.2,543.71 L310.2,542.56 L312.2,541.41 L314.2,540.26 L316.2,539.12 L318.2,537.97 L320.2,536.83 L322.2,535.69 L324.2,534.56 L326.2,533.42 L328.2,532.30 L330.2,531.18 L332.2,530.06 L334.2,528.95 L336.2,527.85 L338.2,526.75 L340.2,525.67 L342.2,524.59 L344.2,523.51 L346.2,522.45 L348.2,521.40 L350.2,520.35 L352.2,519.32 L354.2,518.30 L356.2,517.29 L358.2,516.30 L360.2,515.31 L362.2,514.34 L364.2,513.39 L366.2,512.45 L368.2,511.52 L370.2,510.61 L372.2,509.72 L374.2,508.85 L376.2,507.99 L378.2,507.16 L380.2,506.34 L382.2,505.54 L384.2,504.77 L386.2,504.01 L388.2,503.28 L390.2,502.57 L392.2,501.88 L394.2,501.21 L396.2,500.57 L398.2,499.96 L400.2,499.37 L402.2,498.81 L404.2,498.27 L406.2,497.76 L408.2,497.28 L410.2,496.83 L412.2,496.41 L414.2,496.02 L416.2,495.66 L418.2,495.33 L420.2,495.03 L422.2,494.76 L424.2,494.53 L426.2,494.33 L428.2,494.16 L430.2,494.03 L432.2,493.94 L434.2,493.88 L436.2,493.86 L436.5,493.86" class="c"/>
<path d="M46.2,624.51 L48.2,624.42 L50.2,624.33 L52.2,624.23 L54.2,624.13 L56.2,624.02 L58.2,623.91 L60.2,623.80 L62.2,623.68 L64.2,623.55 L66.2,623.42 L68.2,623.29 L70.2,623.16 L72.2,623.02 L74.2,622.87 L76.2,622.72 L78.2,622.57 L80.2,622.41 L82.2,622.25 L84.2,622.08 L86.2,621.90 L88.2,621.72 L90.2,621.53 L92.2,621.33 L94.2,621.13 L96.2,620.91 L98.2,620.69 L100.2,620.45 L102.2,620.20 L104.2,619.95 L106.2,619.68 L108.2,619.40 L110.2,619.10 L112.2,618.80 L114.2,618.48 L116.2,618.14 L118.2,617.80 L120.2,617.44 L122.2,617.07 L124.2,616.69 L126.2,616.29 L128.2,615.89 L130.2,615.48 L132.2,615.05 L134.2,614.62 L136.2,614.17 L138.2,613.72 L140.2,613.26 L142.2,612.80 L144.2,612.32 L146.2,611.84 L148.2,611.35 L150.2,610.86 L152.2,610.36 L154.2,609.85 L156.2,609.34 L158.2,608.82 L160.2,608.29 L162.2,607.76 L164.2,607.22 L166.2,606.67 L168.2,606.11 L170.2,605.55 L172.2,604.98 L174.2,604.40 L176.2,603.82 L178.2,603.22 L180.2,602.62 L182.2,602.01 L184.2,601.39 L186.2,600.76 L188.2,600.12 L190.2,599.47 L192.2,598.82 L194.2,598.15 L196.2,597.47 L198.2,596.79 L200.2,596.09 L202.2,595.39 L204.2,594.67 L206.2,593.95 L208.2,593.21 L210.2,592.46 L212.2,591.71 L214.2,590.94 L216.2,590.17 L218.2,589.38 L220.2,588.58 L222.2,587.77 L224.2,586.95 L226.2,586.13 L228.2,585.29 L230.2,584.43 L232.2,583.57 L234.2,582.70 L236.2,581.82 L238.2,580.92 L240.2,580.02 L242.2,579.10 L244.2,578.18 L246.2,577.24 L248.2,576.29 L250.2,575.33 L252.2,574.35 L254.2,573.37 L256.2,572.38 L258.2,571.37 L260.2,570.35 L262.2,569.32 L264.2,568.28 L266.2,567.23 L268.2,566.18 L270.2,565.11 L272.2,564.03 L274.2,562.95 L276.2,561.85 L278.2,560.75 L280.2,559.65 L282.2,558.53 L284.2,557.41 L286.2,556.29 L288.2,555.16 L290.2,554.03 L292.2,552.89 L294.2,551.75 L296.2,550.61 L298.2,549.46 L300.2,548.31 L302.2,547.16 L304.2,546.01 L306.2,544.86 L308.2,543.71 L310.2,542.56 L312.2,541.41 L314.2,540.26 L316.2,539.12 L318.2,537.97 L320.2,536.83 L322.2,535.69 L324.2,534.56 L326.2,533.42 L328.2,532.30 L330.2,531.18 L332.2,530.06 L334.2,528.95 L336.2,527.85 L338.2,526.75 L340.2,525.67 L342.2,524.59 L344.2,523.51 L346.2,522.45 L348.2,521.40 L350.2,520.35 L352.2,519.32 L354.2,518.30 L356.2,517.29 L358.2,516.30 L360.2,515.31 L362.2,514.34 L364.2,513.39 L366.2,512.45 L368.2,511.52 L370.2,510.61 L372.2,509.72 L374.2,508.85 L376.2,507.99 L378.2,507.16 L380.2,506.34 L382.2,505.54 L384.2,504.77 L386.2,504.01 L388.2,503.28 L390.2,502.57 L392.2,501.88 L394.2,501.21 L396.2,500.57 L398.2,499.96 L400.2,499.37 L402.2,498.81 L404.2,498.27 L406.2,497.76 L408.2,497.28 L410.2,496.83 L412.2,496.41 L414.2,496.02 L416.2,495.66 L418.2,495.33 L420.2,495.03 L422.2,494.76 L424.2,494.53 L426.2,494.33 L428.2,494.16 L430.2,494.03 L432.2,493.94 L434.2,493.88 L436.2,493.86 L436.5,493.86" class="c d"/>
<path d="M46.2,627.50 L48.2,627.44 L50.2,627.37 L52.2,627.29 L54.2,627.22 L56.2,627.13 L58.2,627.05 L60.2,626.95 L62.2,626.86 L64.2,626.75 L66.2,626.65 L68.2,626.54 L70.2,626.42 L72.2,626.30 L74.2,626.17 L76.2,626.04 L78.2,625.90 L80.2,625.75 L82.2,625.61 L84.2,625.45 L86.2,625.29 L88.2,625.12 L90.2,624.95 L92.2,624.77 L94.2,624.59 L96.2,624.40 L98.2,624.20 L100.2,624.00 L102.2,623.79 L104.2,623.58 L106.2,623.35 L108.2,623.13 L110.2,622.89 L112.2,622.65 L114.2,622.40 L116.2,622.15 L118.2,621.88 L120.2,621.61 L122.2,621.34 L124.2,621.06 L126.2,620.76 L128.2,620.47 L130.2,620.16 L132.2,619.85 L134.2,619.53 L136.2,619.20 L138.2,618.87 L140.2,618.52 L142.2,618.17 L144.2,617.81 L146.2,617.45 L148.2,617.07 L150.2,616.69 L152.2,616.30 L154.2,615.90 L156.2,615.49 L158.2,615.08 L160.2,614.65 L162.2,614.22 L164.2,613.78 L166.2,613.33 L168.2,612.87 L170.2,612.40 L172.2,611.92 L174.2,611.44 L176.2,610.94 L178.2,610.44 L180.2,609.92 L182.2,609.40 L184.2,608.87 L186.2,608.33 L188.2,607.78 L190.2,607.22 L192.2,606.65 L194.2,606.07 L196.2,605.48 L198.2,604.88 L200.2,604.27 L202.2,603.65 L204.2,603.02 L206.2,602.38 L208.2,601.73 L210.2,601.07 L212.2,600.40 L214.2,599.71 L216.2,599.02 L218.2,598.32 L220.2,597.61 L222.2,596.88 L224.2,596.15 L226.2,595.40 L228.2,594.64 L230.2,593.87 L232.2,593.09 L234.2,592.30 L236.2,591.50 L238.2,590.69 L240.2,589.86 L242.2,589.03 L244.2,588.18 L246.2,587.32 L248.2,586.45 L250.2,585.56 L252.2,584.67 L254.2,583.76 L256.2,582.84 L258.2,581.91 L260.2,580.97 L262.2,580.01 L264.2,579.04 L266.2,578.07 L268.2,577.08 L270.2,576.08 L272.2,575.07 L274.2,574.05 L276.2,573.03 L278.2,571.99 L280.2,570.95 L282.2,569.90 L284.2,568.84 L286.2,567.77 L288.2,566.70 L290.2,565.62 L292.2,564.54 L294.2,563.45 L296.2,562.35 L298.2,561.25 L300.2,560.15 L302.2,559.04 L304.2,557.93 L306.2,556.82 L308.2,555.70 L310.2,554.58 L312.2,553.46 L314.2,552.34 L316.2,551.22 L318.2,550.10 L320.2,548.97 L322.2,547.85 L324.2,546.73 L326.2,545.61 L328.2,544.49 L330.2,543.37 L332.2,542.25 L334.2,541.14 L336.2,540.03 L338.2,538.92 L340.2,537.82 L342.2,536.72 L344.2,535.62 L346.2,534.53 L348.2,533.45 L350.2,532.37 L352.2,531.30 L354.2,530.24 L356.2,529.19 L358.2,528.15 L360.2,527.12 L362.2,526.10 L364.2,525.10 L366.2,524.11 L368.2,523.14 L370.2,522.18 L372.2,521.24 L374.2,520.32 L376.2,519.42 L378.2,518.53 L380.2,517.67 L382.2,516.83 L384.2,516.02 L386.2,515.23 L388.2,514.46 L390.2,513.72 L392.2,513.00 L394.2,512.32 L396.2,511.66 L398.2,511.03 L400.2,510.44 L402.2,509.87 L404.2,509.34 L406.2,508.84 L408.2,508.38 L410.2,507.95 L412.2,507.56 L414.2,507.21 L416.2,506.89 L418.2,506.62 L420.2,506.38 L422.2,506.19 L424.2,506.03 L426.2,505.93 L428.2,505.86 L430.2,505.84 L432.2,505.87 L434.2,505.95 L436.2,506.07 L437.8,506.20" class="c"/>
<path d="M46.2,627.50 L48.2,627.44 L50.2,627.37 L52.2,627.29 L54.2,627.22 L56.2,627.13 L58.2,627.05 L60.2,626.95 L62.2,626.86 L64.2,626.75 L66.2,626.65 L68.2,626.54 L70.2,626.42 L72.2,626.30 L74.2,626.17 L76.2,626.04 L78.2,625.90 L80.2,625.75 L82.2,625.61 L84.2,625.45 L86.2,625.29 L88.2,625.12 L90.2,624.95 L92.2,624.77 L94.2,624.59 L96.2,624.40 L98.2,624.20 L100.2,624.00 L102.2,623.79 L104.2,623.58 L106.2,623.35 L108.2,623.13 L110.2,622.89 L112.2,622.65 L114.2,622.40 L116.2,622.15 L118.2,621.88 L120.2,621.61 L122.2,621.34 L124.2,621.06 L126.2,620.76 L128.2,620.47 L130.2,620.16 L132.2,619.85 L134.2,619.53 L136.2,619.20 L138.2,618.87 L140.2,618.52 L142.2,618.17 L144.2,617.81 L146.2,617.45 L148.2,617.07 L150.2,616.69 L152.2,616.30 L154.2,615.90 L156.2,615.49 L158.2,615.08 L160.2,614.65 L162.2,614.22 L164.2,613.78 L166.2,613.33 L168.2,612.87 L170.2,612.40 L172.2,611.92 L174.2,611.44 L176.2,610.94 L178.2,610.44 L180.2,609.92 L182.2,609.40 L184.2,608.87 L186.2,608.33 L188.2,607.78 L190.2,607.22 L192.2,606.65 L194.2,606.07 L196.2,605.48 L198.2,604.88 L200.2,604.27 L202.2,603.65 L204.2,603.02 L206.2,602.38 L208.2,601.73 L210.2,601.07 L212.2,600.40 L214.2,599.71 L216.2,599.02 L218.2,598.32 L220.2,597.61 L222.2,596.88 L224.2,596.15 L226.2,595.40 L228.2,594.64 L230.2,593.87 L232.2,593.09 L234.2,592.30 L236.2,591.50 L238.2,590.69 L240.2,589.86 L242.2,589.03 L244.2,588.18 L246.2,587.32 L248.2,586.45 L250.2,585.56 L252.2,584.67 L254.2,583.76 L256.2,582.84 L258.2,581.91 L260.2,580.97 L262.2,580.01 L264.2,579.04 L266.2,578.07 L268.2,577.08 L270.2,576.08 L272.2,575.07 L274.2,574.05 L276.2,573.03 L278.2,571.99 L280.2,570.95 L282.2,569.90 L284.2,568.84 L286.2,567.77 L288.2,566.70 L290.2,565.62 L292.2,564.54 L294.2,563.45 L296.2,562.35 L298.2,561.25 L300.2,560.15 L302.2,559.04 L304.2,557.93 L306.2,556.82 L308.2,555.70 L310.2,554.58 L312.2,553.46 L314.2,552.34 L316.2,551.22 L318.2,550.10 L320.2,548.97 L322.2,547.85 L324.2,546.73 L326.2,545.61 L328.2,544.49 L330.2,543.37 L332.2,542.25 L334.2,541.14 L336.2,540.03 L338.2,538.92 L340.2,537.82 L342.2,536.72 L344.2,535.62 L346.2,534.53 L348.2,533.45 L350.2,532.37 L352.2,531.30 L354.2,530.24 L356.2,529.19 L358.2,528.15 L360.2,527.12 L362.2,526.10 L364.2,525.10 L366.2,524.11 L368.2,523.14 L370.2,522.18 L372.2,521.24 L374.2,520.32 L376.2,519.42 L378.2,518.53 L380.2,517.67 L382.2,516.83 L384.2,516.02 L386.2,515.23 L388.2,514.46 L390.2,513.72 L392.2,513.00 L394.2,512.32 L396.2,511.66 L398.2,511.03 L400.2,510.44 L402.2,509.87 L404.2,509.34 L406.2,508.84 L408.2,508.38 L410.2,507.95 L412.2,507.56 L414.2,507.21 L416.2,506.89 L418.2,506.62 L420.2,506.38 L422.2,506.19 L424.2,506.03 L426.2,505.93 L428.2,505.86 L430.2,505.84 L432.2,505.87 L434.2,505.95 L436.2,506.07 L437.8,506.20" class="c d"/>
<text x="442.6" y="428.7" class="pl">97<tspan class="sup" dy="-4.6">th</tspan><tspan dy="4.6" dx="0.5"> percentile</tspan></text>
<text x="442.6" y="443.8" class="pl">90<tspan class="sup" dy="-4.6">th</tspan><tspan dy="4.6" dx="0.5"> percentile</tspan></text>
<text x="442.6" y="471.7" class="pl">50<tspan class="sup" dy="-4.6">th</tspan><tspan dy="4.6" dx="0.5"> percentile</tspan></text>
<text x="442.6" y="496.7" class="pl">10<tspan class="sup" dy="-4.6">th</tspan><tspan dy="4.6" dx="0.5"> percentile</tspan></text>
<text x="442.6" y="511.6" class="pl">Third percentile</text>
<rect x="366.3" y="350.5" width="92.1" height="31.9" fill="#fff" stroke="#444" stroke-width="1.05"/>
<line x1="369.5" y1="357.9" x2="414.0" y2="357.9" class="c d" style="stroke-width:1.5"/>
<line x1="369.5" y1="374.5" x2="414.0" y2="374.5" class="c" style="stroke-width:1.5"/>
<text x="421.3" y="361.7" class="lg">4253H</text>
<text x="421.3" y="377.9" class="lg">LMS</text>
<text transform="translate(226.2 386.5) scale(1.055 1)" class="ti">Girls</text>
<text x="208.7" y="685.9" class="at">GA (WEEKS)</text>
<text x="12.0" y="520.4" transform="rotate(-90 12.0 520.4)" text-anchor="middle" class="yt">Birth weight (g)</text>
</svg>
</body></html>
